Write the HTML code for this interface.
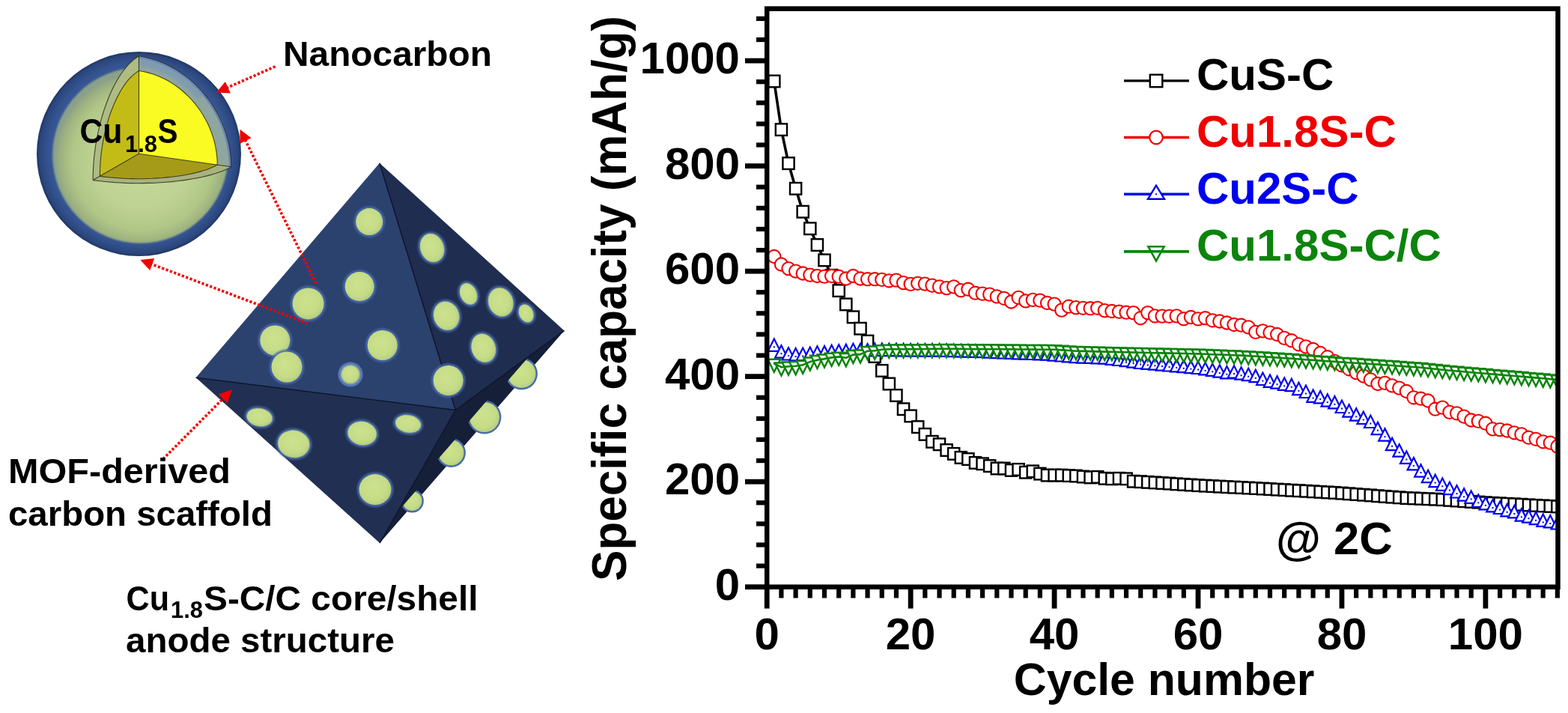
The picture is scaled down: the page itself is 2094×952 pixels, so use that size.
<!DOCTYPE html>
<html><head><meta charset="utf-8"><title>Cu1.8S-C/C core/shell anode</title>
<style>html,body{margin:0;padding:0;background:#fff;overflow:hidden}svg{display:block}</style>
</head><body>
<svg width="2094" height="952" viewBox="0 0 2094 952">
<defs>
<radialGradient id="gRing" cx="185.5" cy="205.5" r="136.5" gradientUnits="userSpaceOnUse">
  <stop offset="0.8" stop-color="#395a9b"/>
  <stop offset="0.9" stop-color="#33528f"/>
  <stop offset="0.97" stop-color="#2b467c"/>
  <stop offset="1" stop-color="#1f3563"/>
</radialGradient>
<radialGradient id="gShell" cx="190" cy="214" r="117.5" gradientUnits="userSpaceOnUse">
  <stop offset="0" stop-color="#c6da9a"/>
  <stop offset="0.55" stop-color="#bed393"/>
  <stop offset="0.8" stop-color="#b0c687"/>
  <stop offset="0.93" stop-color="#9db17f"/>
  <stop offset="1" stop-color="#8aa08a"/>
</radialGradient>
<radialGradient id="gBead" cx="0.45" cy="0.42" r="0.6">
  <stop offset="0" stop-color="#cde28e"/>
  <stop offset="0.7" stop-color="#c5dc87"/>
  <stop offset="1" stop-color="#b4cb82"/>
</radialGradient>
<filter id="blur1" x="-30%" y="-30%" width="160%" height="160%"><feGaussianBlur stdDeviation="1.6"/></filter>
<filter id="blur2" x="-30%" y="-30%" width="160%" height="160%"><feGaussianBlur stdDeviation="0.9"/></filter><filter id="blur4" x="-30%" y="-30%" width="160%" height="160%"><feGaussianBlur stdDeviation="0.6"/></filter>
<filter id="blur3" x="-10%" y="-10%" width="120%" height="120%"><feGaussianBlur stdDeviation="1.3"/></filter>
<clipPath id="bc0"><polygon points="651.4,539.3 730.1,448.7 775.4,488.1 696.7,578.7"/></clipPath><clipPath id="bc1"><polygon points="598.6,594.4 677.3,503.8 722.6,543.2 643.9,633.8"/></clipPath><clipPath id="bc2"><polygon points="557.4,644.8 636.1,554.2 681.4,593.5 602.7,684.1"/></clipPath><clipPath id="bc3"><polygon points="507.2,710.9 585.9,620.3 631.2,659.6 552.5,750.2"/></clipPath></defs>
<rect width="2094" height="952" fill="#fff"/>
<circle cx="185.5" cy="205.5" r="136.5" fill="url(#gRing)"/>
<circle cx="187.4" cy="207.4" r="117.3" fill="url(#gShell)" filter="url(#blur3)"/>
<path d="M185.5,205.3 L124.1,240.6 L131.1,241.5 L138.3,242.3 L145.6,243.0 L153.1,243.6 L160.7,244.0 L168.3,244.4 L176.0,244.6 L183.7,244.7 L191.5,244.6 L199.2,244.4 L206.8,244.2 L214.4,243.7 L221.9,243.2 L229.3,242.6 L236.6,241.8 L243.7,240.9 L250.6,239.9 L257.3,238.8 L263.8,237.6 L270.0,236.3 L276.0,234.9 L281.7,233.4 L287.1,231.8 L292.1,230.1 L296.9,228.4 L301.2,226.5 L305.3,224.7 L308.9,222.7 Z" fill="#a8b27e"/>
<path d="M185.5,205.3 L133.4,235.3 L139.3,236.1 L145.4,236.7 L151.7,237.3 L158.0,237.8 L164.4,238.2 L170.9,238.5 L177.4,238.6 L184.0,238.7 L190.6,238.7 L197.1,238.5 L203.6,238.3 L210.1,237.9 L216.4,237.5 L222.7,236.9 L228.9,236.3 L234.9,235.5 L240.8,234.7 L246.5,233.8 L252.0,232.7 L257.3,231.6 L262.3,230.4 L267.2,229.1 L271.7,227.8 L276.0,226.4 L280.1,224.9 L283.8,223.3 L287.2,221.7 L290.3,220.1 Z" fill="#a59b19"/>
<path d="M185.5,205.3 L124.1,240.6 L124.2,233.2 L124.5,225.8 L125.0,218.2 L125.6,210.7 L126.5,203.1 L127.5,195.5 L128.8,188.0 L130.2,180.5 L131.8,173.1 L133.5,165.8 L135.4,158.6 L137.5,151.5 L139.7,144.7 L142.1,138.0 L144.6,131.5 L147.2,125.3 L150.0,119.3 L152.8,113.6 L155.8,108.2 L158.9,103.0 L162.0,98.2 L165.2,93.8 L168.5,89.7 L171.8,85.9 L175.2,82.6 L178.6,79.6 L182.1,77.0 L185.5,74.8 Z" fill="#aebb84"/>
<path d="M185.5,205.3 L133.4,235.3 L133.5,229.0 L133.7,222.7 L134.1,216.3 L134.7,209.9 L135.4,203.4 L136.3,197.0 L137.3,190.6 L138.5,184.2 L139.9,177.9 L141.4,171.7 L143.0,165.6 L144.7,159.7 L146.6,153.8 L148.6,148.1 L150.8,142.7 L153.0,137.4 L155.3,132.3 L157.8,127.4 L160.3,122.8 L162.9,118.5 L165.6,114.4 L168.3,110.6 L171.1,107.1 L173.9,104.0 L176.8,101.1 L179.7,98.6 L182.6,96.4 L185.5,94.5 Z" fill="#c4bc16"/>
<path d="M185.5,205.3 L185.5,74.8 L192.4,76.0 L199.3,77.6 L206.2,79.6 L213.0,81.9 L219.7,84.7 L226.3,87.9 L232.7,91.4 L239.0,95.3 L245.2,99.5 L251.2,104.1 L256.9,108.9 L262.4,114.1 L267.7,119.6 L272.8,125.3 L277.5,131.3 L282.0,137.5 L286.1,144.0 L290.0,150.6 L293.5,157.4 L296.7,164.4 L299.5,171.4 L302.0,178.6 L304.1,185.9 L305.8,193.2 L307.2,200.6 L308.1,208.0 L308.7,215.4 L308.9,222.7 Z" fill="#6584bd"/>
<path d="M185.5,205.3 L185.5,78.1 L192.2,79.2 L199.0,80.8 L205.7,82.7 L212.3,85.0 L218.8,87.7 L225.2,90.8 L231.5,94.2 L237.7,98.0 L243.7,102.1 L249.5,106.6 L255.1,111.3 L260.5,116.4 L265.7,121.7 L270.6,127.3 L275.2,133.2 L279.6,139.2 L283.6,145.5 L287.4,152.0 L290.8,158.6 L293.9,165.4 L296.7,172.3 L299.1,179.3 L301.1,186.4 L302.8,193.5 L304.1,200.7 L305.1,207.9 L305.6,215.1 L305.8,222.3 Z" fill="#8fa6a0"/>
<path d="M185.5,205.3 L185.5,94.5 L191.4,95.5 L197.2,96.9 L203.0,98.5 L208.8,100.6 L214.5,102.9 L220.1,105.6 L225.6,108.6 L231.0,111.9 L236.2,115.5 L241.2,119.3 L246.1,123.5 L250.8,127.9 L255.3,132.5 L259.6,137.4 L263.6,142.5 L267.4,147.8 L270.9,153.2 L274.2,158.9 L277.2,164.6 L279.9,170.5 L282.3,176.5 L284.4,182.7 L286.2,188.8 L287.6,195.0 L288.8,201.3 L289.6,207.6 L290.1,213.8 L290.3,220.1 Z" fill="#fbfb24"/>
<path d="M185.5,74.8 L204.8,79.1 L223.6,86.6 L241.5,96.9 L258.0,110.0 L272.8,125.3 L264.0,133.3 L250.8,119.5 L235.9,107.8 L219.8,98.4 L202.9,91.7 L185.5,87.9 Z" fill="#6f8fc0" opacity="0.45" filter="url(#blur1)"/>
<path d="M124.1,240.6 L131.1,241.5 L138.3,242.3 L145.6,243.0 L153.1,243.6 L160.7,244.0 L168.3,244.4 L176.0,244.6 L183.7,244.7 L191.5,244.6 L199.2,244.4 L206.8,244.2 L214.4,243.7 L221.9,243.2 L229.3,242.6 L236.6,241.8 L243.7,240.9 L250.6,239.9 L257.3,238.8 L263.8,237.6 L270.0,236.3 L276.0,234.9 L281.7,233.4 L287.1,231.8 L292.1,230.1 L296.9,228.4 L301.2,226.5 L305.3,224.7 L308.9,222.7" stroke="#2c2c14" stroke-width="1.1" fill="none" opacity="0.85"/>
<path d="M133.4,235.3 L139.3,236.1 L145.4,236.7 L151.7,237.3 L158.0,237.8 L164.4,238.2 L170.9,238.5 L177.4,238.6 L184.0,238.7 L190.6,238.7 L197.1,238.5 L203.6,238.3 L210.1,237.9 L216.4,237.5 L222.7,236.9 L228.9,236.3 L234.9,235.5 L240.8,234.7 L246.5,233.8 L252.0,232.7 L257.3,231.6 L262.3,230.4 L267.2,229.1 L271.7,227.8 L276.0,226.4 L280.1,224.9 L283.8,223.3 L287.2,221.7 L290.3,220.1" stroke="#2c2c14" stroke-width="1.1" fill="none" opacity="0.85"/>
<path d="M124.1,240.6 L124.2,233.2 L124.5,225.8 L125.0,218.2 L125.6,210.7 L126.5,203.1 L127.5,195.5 L128.8,188.0 L130.2,180.5 L131.8,173.1 L133.5,165.8 L135.4,158.6 L137.5,151.5 L139.7,144.7 L142.1,138.0 L144.6,131.5 L147.2,125.3 L150.0,119.3 L152.8,113.6 L155.8,108.2 L158.9,103.0 L162.0,98.2 L165.2,93.8 L168.5,89.7 L171.8,85.9 L175.2,82.6 L178.6,79.6 L182.1,77.0 L185.5,74.8" stroke="#2c2c14" stroke-width="1.1" fill="none" opacity="0.85"/>
<path d="M133.4,235.3 L133.5,229.0 L133.7,222.7 L134.1,216.3 L134.7,209.9 L135.4,203.4 L136.3,197.0 L137.3,190.6 L138.5,184.2 L139.9,177.9 L141.4,171.7 L143.0,165.6 L144.7,159.7 L146.6,153.8 L148.6,148.1 L150.8,142.7 L153.0,137.4 L155.3,132.3 L157.8,127.4 L160.3,122.8 L162.9,118.5 L165.6,114.4 L168.3,110.6 L171.1,107.1 L173.9,104.0 L176.8,101.1 L179.7,98.6 L182.6,96.4 L185.5,94.5" stroke="#2c2c14" stroke-width="1.1" fill="none" opacity="0.85"/>
<path d="M185.5,74.8 L192.4,76.0 L199.3,77.6 L206.2,79.6 L213.0,81.9 L219.7,84.7 L226.3,87.9 L232.7,91.4 L239.0,95.3 L245.2,99.5 L251.2,104.1 L256.9,108.9 L262.4,114.1 L267.7,119.6 L272.8,125.3 L277.5,131.3 L282.0,137.5 L286.1,144.0 L290.0,150.6 L293.5,157.4 L296.7,164.4 L299.5,171.4 L302.0,178.6 L304.1,185.9 L305.8,193.2 L307.2,200.6 L308.1,208.0 L308.7,215.4 L308.9,222.7" stroke="#2c2c14" stroke-width="1.1" fill="none" opacity="0.85"/>
<path d="M185.5,94.5 L191.4,95.5 L197.2,96.9 L203.0,98.5 L208.8,100.6 L214.5,102.9 L220.1,105.6 L225.6,108.6 L231.0,111.9 L236.2,115.5 L241.2,119.3 L246.1,123.5 L250.8,127.9 L255.3,132.5 L259.6,137.4 L263.6,142.5 L267.4,147.8 L270.9,153.2 L274.2,158.9 L277.2,164.6 L279.9,170.5 L282.3,176.5 L284.4,182.7 L286.2,188.8 L287.6,195.0 L288.8,201.3 L289.6,207.6 L290.1,213.8 L290.3,220.1" stroke="#2c2c14" stroke-width="1.1" fill="none" opacity="0.85"/>
<line x1="185.5" y1="205.3" x2="185.5" y2="74.8" stroke="#2c2c14" stroke-width="1.1" fill="none" opacity="0.85"/>
<line x1="185.5" y1="205.3" x2="308.9" y2="222.7" stroke="#2c2c14" stroke-width="1.1" fill="none" opacity="0.85"/>
<line x1="185.5" y1="205.3" x2="124.1" y2="240.6" stroke="#2c2c14" stroke-width="1.1" fill="none" opacity="0.85"/>
<polygon points="506.9,217.7 261.6,504.2 608.3,547.6" fill="#2c426e"/>
<polygon points="506.9,217.7 608.3,547.6 753.5,441.5" fill="#1f2d50"/>
<polygon points="261.6,504.2 507.1,725.1 608.3,547.6" fill="#213052"/>
<polygon points="608.3,547.6 507.1,725.1 753.5,441.5" fill="#161f38"/>
<path d="M261.6,504.2 L608.3,547.6 L753.5,441.5 M506.9,217.7 L608.3,547.6 M608.3,547.6 L507.1,725.1" stroke="#0f1730" stroke-width="1.6" fill="none"/>
<ellipse cx="493.2" cy="296.1" rx="20.8" ry="20.8" fill="#4a6aab" opacity="0.9" filter="url(#blur2)"/>
<ellipse cx="493.2" cy="296.1" rx="18.0" ry="18.0" fill="url(#gBead)" filter="url(#blur4)"/>
<ellipse cx="480.2" cy="382.6" rx="22.3" ry="22.3" fill="#4a6aab" opacity="0.9" filter="url(#blur2)"/>
<ellipse cx="480.2" cy="382.6" rx="19.5" ry="19.5" fill="url(#gBead)" filter="url(#blur4)"/>
<ellipse cx="411.6" cy="405.4" rx="23.8" ry="23.8" fill="#4a6aab" opacity="0.9" filter="url(#blur2)"/>
<ellipse cx="411.6" cy="405.4" rx="21.0" ry="21.0" fill="url(#gBead)" filter="url(#blur4)"/>
<ellipse cx="367.3" cy="454.4" rx="22.8" ry="22.8" fill="#4a6aab" opacity="0.9" filter="url(#blur2)"/>
<ellipse cx="367.3" cy="454.4" rx="20.0" ry="20.0" fill="url(#gBead)" filter="url(#blur4)"/>
<ellipse cx="383.0" cy="490.0" rx="23.3" ry="23.3" fill="#4a6aab" opacity="0.9" filter="url(#blur2)"/>
<ellipse cx="383.0" cy="490.0" rx="20.5" ry="20.5" fill="url(#gBead)" filter="url(#blur4)"/>
<ellipse cx="510.8" cy="461.0" rx="22.8" ry="22.8" fill="#4a6aab" opacity="0.9" filter="url(#blur2)"/>
<ellipse cx="510.8" cy="461.0" rx="20.0" ry="20.0" fill="url(#gBead)" filter="url(#blur4)"/>
<ellipse cx="577.1" cy="331.1" rx="18.6" ry="22.3" fill="#4a6aab" opacity="0.9" filter="url(#blur2)" transform="rotate(-20 577.1 331.1)"/>
<ellipse cx="577.1" cy="331.1" rx="15.8" ry="19.5" fill="url(#gBead)" filter="url(#blur4)" transform="rotate(-20 577.1 331.1)"/>
<ellipse cx="625.7" cy="392.5" rx="13.8" ry="17.8" fill="#4a6aab" opacity="0.9" filter="url(#blur2)" transform="rotate(-25 625.7 392.5)"/>
<ellipse cx="625.7" cy="392.5" rx="11.0" ry="15.0" fill="url(#gBead)" filter="url(#blur4)" transform="rotate(-25 625.7 392.5)"/>
<ellipse cx="668.8" cy="403.4" rx="19.3" ry="22.3" fill="#4a6aab" opacity="0.9" filter="url(#blur2)" transform="rotate(-20 668.8 403.4)"/>
<ellipse cx="668.8" cy="403.4" rx="16.5" ry="19.5" fill="url(#gBead)" filter="url(#blur4)" transform="rotate(-20 668.8 403.4)"/>
<ellipse cx="702.7" cy="418.5" rx="12.3" ry="15.3" fill="#4a6aab" opacity="0.9" filter="url(#blur2)" transform="rotate(-25 702.7 418.5)"/>
<ellipse cx="702.7" cy="418.5" rx="9.5" ry="12.5" fill="url(#gBead)" filter="url(#blur4)" transform="rotate(-25 702.7 418.5)"/>
<ellipse cx="596.2" cy="421.7" rx="19.8" ry="22.3" fill="#4a6aab" opacity="0.9" filter="url(#blur2)" transform="rotate(-20 596.2 421.7)"/>
<ellipse cx="596.2" cy="421.7" rx="17.0" ry="19.5" fill="url(#gBead)" filter="url(#blur4)" transform="rotate(-20 596.2 421.7)"/>
<ellipse cx="645.8" cy="464.8" rx="18.8" ry="22.3" fill="#4a6aab" opacity="0.9" filter="url(#blur2)" transform="rotate(-20 645.8 464.8)"/>
<ellipse cx="645.8" cy="464.8" rx="16.0" ry="19.5" fill="url(#gBead)" filter="url(#blur4)" transform="rotate(-20 645.8 464.8)"/>
<ellipse cx="598.6" cy="508.0" rx="22.8" ry="22.8" fill="#4a6aab" opacity="0.9" filter="url(#blur2)"/>
<ellipse cx="598.6" cy="508.0" rx="20.0" ry="20.0" fill="url(#gBead)" filter="url(#blur4)"/>
<ellipse cx="346.6" cy="557.2" rx="20.1" ry="14.8" fill="#4a6aab" opacity="0.9" filter="url(#blur2)" transform="rotate(10 346.6 557.2)"/>
<ellipse cx="346.6" cy="557.2" rx="17.3" ry="12.0" fill="url(#gBead)" filter="url(#blur4)" transform="rotate(10 346.6 557.2)"/>
<ellipse cx="392.3" cy="592.8" rx="24.2" ry="21.1" fill="#4a6aab" opacity="0.9" filter="url(#blur2)" transform="rotate(10 392.3 592.8)"/>
<ellipse cx="392.3" cy="592.8" rx="21.4" ry="18.3" fill="url(#gBead)" filter="url(#blur4)" transform="rotate(10 392.3 592.8)"/>
<ellipse cx="483.7" cy="578.6" rx="22.3" ry="18.6" fill="#4a6aab" opacity="0.9" filter="url(#blur2)" transform="rotate(10 483.7 578.6)"/>
<ellipse cx="483.7" cy="578.6" rx="19.5" ry="15.8" fill="url(#gBead)" filter="url(#blur4)" transform="rotate(10 483.7 578.6)"/>
<ellipse cx="545.1" cy="566.0" rx="20.1" ry="14.5" fill="#4a6aab" opacity="0.9" filter="url(#blur2)" transform="rotate(10 545.1 566.0)"/>
<ellipse cx="545.1" cy="566.0" rx="17.3" ry="11.7" fill="url(#gBead)" filter="url(#blur4)" transform="rotate(10 545.1 566.0)"/>
<ellipse cx="501.0" cy="653.6" rx="24.2" ry="23.3" fill="#4a6aab" opacity="0.9" filter="url(#blur2)"/>
<ellipse cx="501.0" cy="653.6" rx="21.4" ry="20.5" fill="url(#gBead)" filter="url(#blur4)"/>
<g clip-path="url(#bc0)"><circle cx="696.5" cy="499.0" r="21.4" fill="#4a6aab" filter="url(#blur4)"/><circle cx="696.5" cy="499.0" r="19.0" fill="url(#gBead)" filter="url(#blur4)"/></g>
<g clip-path="url(#bc1)"><circle cx="647.0" cy="557.0" r="22.4" fill="#4a6aab" filter="url(#blur4)"/><circle cx="647.0" cy="557.0" r="20.0" fill="url(#gBead)" filter="url(#blur4)"/></g>
<g clip-path="url(#bc2)"><circle cx="602.5" cy="604.5" r="19.4" fill="#4a6aab" filter="url(#blur4)"/><circle cx="602.5" cy="604.5" r="17.0" fill="url(#gBead)" filter="url(#blur4)"/></g>
<g clip-path="url(#bc3)"><circle cx="550.5" cy="669.0" r="15.4" fill="#4a6aab" filter="url(#blur4)"/><circle cx="550.5" cy="669.0" r="13.0" fill="url(#gBead)" filter="url(#blur4)"/></g>
<circle cx="468.0" cy="500.0" r="16.6" fill="#5274b8" filter="url(#blur4)"/>
<circle cx="468.0" cy="500.0" r="12.6" fill="url(#gBead)" filter="url(#blur2)"/>
<line x1="367.6" y1="88.8" x2="302.5" y2="117.5" stroke="#f40000" stroke-width="3.6" stroke-dasharray="3.2 2.5"/><polygon points="288.8,123.5 300.9,108.9 307.8,124.4" fill="#f40000"/>
<line x1="422.0" y1="378.3" x2="327.1" y2="186.2" stroke="#f40000" stroke-width="3.6" stroke-dasharray="3.2 2.5"/><polygon points="320.5,172.7 335.6,184.2 320.4,191.7" fill="#f40000"/>
<line x1="411.0" y1="431.9" x2="201.3" y2="352.2" stroke="#f40000" stroke-width="3.6" stroke-dasharray="3.2 2.5"/><polygon points="187.3,346.9 206.2,345.0 200.2,360.9" fill="#f40000"/>
<line x1="217.8" y1="612.9" x2="299.2" y2="530.9" stroke="#f40000" stroke-width="3.6" stroke-dasharray="3.2 2.5"/><polygon points="309.8,520.3 303.8,538.4 291.8,526.4" fill="#f40000"/>
<text x="378.0" y="87.8" font-size="46.5" font-family="Liberation Sans, Arial, sans-serif" font-weight="bold" textLength="279.0" lengthAdjust="spacingAndGlyphs">Nanocarbon</text>
<text x="106.5" y="190.8" font-size="46.5" font-family="Liberation Sans, Arial, sans-serif" font-weight="bold" textLength="57.0" lengthAdjust="spacingAndGlyphs">Cu</text>
<text x="167.0" y="202.6" font-size="31.0" font-family="Liberation Sans, Arial, sans-serif" font-weight="bold" textLength="43.0" lengthAdjust="spacingAndGlyphs">1.8</text>
<text x="210.5" y="190.8" font-size="46.5" font-family="Liberation Sans, Arial, sans-serif" font-weight="bold" textLength="27.0" lengthAdjust="spacingAndGlyphs">S</text>
<text x="11.0" y="645.4" font-size="46.5" font-family="Liberation Sans, Arial, sans-serif" font-weight="bold" textLength="297.0" lengthAdjust="spacingAndGlyphs">MOF-derived</text>
<text x="11.0" y="701.7" font-size="46.5" font-family="Liberation Sans, Arial, sans-serif" font-weight="bold" textLength="353.0" lengthAdjust="spacingAndGlyphs">carbon scaffold</text>
<text x="168.5" y="814.9" font-size="46.5" font-family="Liberation Sans, Arial, sans-serif" font-weight="bold" textLength="57.5" lengthAdjust="spacingAndGlyphs">Cu</text>
<text x="228.0" y="825.4" font-size="31.0" font-family="Liberation Sans, Arial, sans-serif" font-weight="bold" textLength="43.0" lengthAdjust="spacingAndGlyphs">1.8</text>
<text x="272.0" y="814.9" font-size="46.5" font-family="Liberation Sans, Arial, sans-serif" font-weight="bold" textLength="366.5" lengthAdjust="spacingAndGlyphs">S-C/C core/shell</text>
<text x="168.0" y="871.0" font-size="46.5" font-family="Liberation Sans, Arial, sans-serif" font-weight="bold" textLength="359.0" lengthAdjust="spacingAndGlyphs">anode structure</text>
<clipPath id="plotclip"><rect x="1027" y="14" width="1051" height="767"/></clipPath>
<g clip-path="url(#plotclip)"><polyline points="1033.8,108.5 1043.4,173.1 1053.0,218.1 1062.6,251.8 1072.2,282.7 1081.8,305.2 1091.4,327.0 1101.0,347.4 1110.6,367.8 1120.2,388.1 1129.8,406.4 1139.4,423.3 1149.0,438.7 1158.6,455.6 1168.2,476.0 1177.8,494.9 1187.3,512.5 1196.9,528.0 1206.5,546.2 1216.1,555.4 1225.7,570.1 1235.3,579.9 1244.9,589.8 1254.5,593.3 1264.1,601.0 1273.7,605.9 1283.3,610.9 1292.9,613.0 1302.5,617.9 1312.1,619.3 1321.7,622.1 1331.3,625.5 1340.9,625.5 1350.5,627.9 1360.1,626.9 1369.7,630.7 1379.3,629.3 1388.9,632.6 1398.5,634.6 1408.1,634.6 1417.7,634.6 1427.3,635.1 1436.9,635.5 1446.5,636.5 1456.1,637.4 1465.7,636.9 1475.3,638.8 1484.9,639.3 1494.5,638.8 1504.0,639.3 1513.6,642.7 1523.2,643.2 1532.8,643.8 1542.4,644.4 1552.0,645.0 1561.6,645.6 1571.2,646.3 1580.8,646.9 1590.4,647.5 1600.0,648.1 1609.6,648.6 1619.2,649.1 1628.8,649.6 1638.4,650.1 1648.0,650.6 1657.6,651.0 1667.2,651.5 1676.8,652.0 1686.4,652.5 1696.0,653.0 1705.6,653.6 1715.2,654.1 1724.8,654.7 1734.4,655.2 1744.0,655.7 1753.6,656.3 1763.2,656.8 1772.8,657.4 1782.4,657.9 1792.0,658.6 1801.6,659.3 1811.2,660.0 1820.8,660.7 1830.3,661.4 1839.9,662.2 1849.5,662.9 1859.1,663.6 1868.7,664.3 1878.3,665.0 1887.9,665.4 1897.5,665.8 1907.1,666.2 1916.7,666.6 1926.3,667.1 1935.9,667.8 1945.5,668.5 1955.1,669.2 1964.7,669.9 1974.3,670.6 1983.9,671.3 1993.5,671.8 2003.1,672.3 2012.7,672.8 2022.3,673.3 2031.9,673.8 2041.5,674.4 2051.1,674.9 2060.7,675.4 2070.3,675.9 2079.9,676.4" fill="none" stroke="#000000" stroke-width="3.6" stroke-linejoin="round"/><rect x="1026.2" y="100.7" width="15.2" height="15.6" fill="#fff" stroke="#000" stroke-width="2.4"/><rect x="1035.8" y="165.3" width="15.2" height="15.6" fill="#fff" stroke="#000" stroke-width="2.4"/><rect x="1045.4" y="210.3" width="15.2" height="15.6" fill="#fff" stroke="#000" stroke-width="2.4"/><rect x="1055.0" y="244.0" width="15.2" height="15.6" fill="#fff" stroke="#000" stroke-width="2.4"/><rect x="1064.6" y="274.9" width="15.2" height="15.6" fill="#fff" stroke="#000" stroke-width="2.4"/><rect x="1074.2" y="297.4" width="15.2" height="15.6" fill="#fff" stroke="#000" stroke-width="2.4"/><rect x="1083.8" y="319.2" width="15.2" height="15.6" fill="#fff" stroke="#000" stroke-width="2.4"/><rect x="1093.4" y="339.6" width="15.2" height="15.6" fill="#fff" stroke="#000" stroke-width="2.4"/><rect x="1103.0" y="360.0" width="15.2" height="15.6" fill="#fff" stroke="#000" stroke-width="2.4"/><rect x="1112.6" y="380.3" width="15.2" height="15.6" fill="#fff" stroke="#000" stroke-width="2.4"/><rect x="1122.2" y="398.6" width="15.2" height="15.6" fill="#fff" stroke="#000" stroke-width="2.4"/><rect x="1131.8" y="415.5" width="15.2" height="15.6" fill="#fff" stroke="#000" stroke-width="2.4"/><rect x="1141.4" y="430.9" width="15.2" height="15.6" fill="#fff" stroke="#000" stroke-width="2.4"/><rect x="1151.0" y="447.8" width="15.2" height="15.6" fill="#fff" stroke="#000" stroke-width="2.4"/><rect x="1160.6" y="468.2" width="15.2" height="15.6" fill="#fff" stroke="#000" stroke-width="2.4"/><rect x="1170.2" y="487.1" width="15.2" height="15.6" fill="#fff" stroke="#000" stroke-width="2.4"/><rect x="1179.7" y="504.7" width="15.2" height="15.6" fill="#fff" stroke="#000" stroke-width="2.4"/><rect x="1189.3" y="520.2" width="15.2" height="15.6" fill="#fff" stroke="#000" stroke-width="2.4"/><rect x="1198.9" y="538.4" width="15.2" height="15.6" fill="#fff" stroke="#000" stroke-width="2.4"/><rect x="1208.5" y="547.6" width="15.2" height="15.6" fill="#fff" stroke="#000" stroke-width="2.4"/><rect x="1218.1" y="562.3" width="15.2" height="15.6" fill="#fff" stroke="#000" stroke-width="2.4"/><rect x="1227.7" y="572.1" width="15.2" height="15.6" fill="#fff" stroke="#000" stroke-width="2.4"/><rect x="1237.3" y="582.0" width="15.2" height="15.6" fill="#fff" stroke="#000" stroke-width="2.4"/><rect x="1246.9" y="585.5" width="15.2" height="15.6" fill="#fff" stroke="#000" stroke-width="2.4"/><rect x="1256.5" y="593.2" width="15.2" height="15.6" fill="#fff" stroke="#000" stroke-width="2.4"/><rect x="1266.1" y="598.1" width="15.2" height="15.6" fill="#fff" stroke="#000" stroke-width="2.4"/><rect x="1275.7" y="603.1" width="15.2" height="15.6" fill="#fff" stroke="#000" stroke-width="2.4"/><rect x="1285.3" y="605.2" width="15.2" height="15.6" fill="#fff" stroke="#000" stroke-width="2.4"/><rect x="1294.9" y="610.1" width="15.2" height="15.6" fill="#fff" stroke="#000" stroke-width="2.4"/><rect x="1304.5" y="611.5" width="15.2" height="15.6" fill="#fff" stroke="#000" stroke-width="2.4"/><rect x="1314.1" y="614.3" width="15.2" height="15.6" fill="#fff" stroke="#000" stroke-width="2.4"/><rect x="1323.7" y="617.7" width="15.2" height="15.6" fill="#fff" stroke="#000" stroke-width="2.4"/><rect x="1333.3" y="617.7" width="15.2" height="15.6" fill="#fff" stroke="#000" stroke-width="2.4"/><rect x="1342.9" y="620.1" width="15.2" height="15.6" fill="#fff" stroke="#000" stroke-width="2.4"/><rect x="1352.5" y="619.1" width="15.2" height="15.6" fill="#fff" stroke="#000" stroke-width="2.4"/><rect x="1362.1" y="622.9" width="15.2" height="15.6" fill="#fff" stroke="#000" stroke-width="2.4"/><rect x="1371.7" y="621.5" width="15.2" height="15.6" fill="#fff" stroke="#000" stroke-width="2.4"/><rect x="1381.3" y="624.8" width="15.2" height="15.6" fill="#fff" stroke="#000" stroke-width="2.4"/><rect x="1390.9" y="626.8" width="15.2" height="15.6" fill="#fff" stroke="#000" stroke-width="2.4"/><rect x="1400.5" y="626.8" width="15.2" height="15.6" fill="#fff" stroke="#000" stroke-width="2.4"/><rect x="1410.1" y="626.8" width="15.2" height="15.6" fill="#fff" stroke="#000" stroke-width="2.4"/><rect x="1419.7" y="627.3" width="15.2" height="15.6" fill="#fff" stroke="#000" stroke-width="2.4"/><rect x="1429.3" y="627.7" width="15.2" height="15.6" fill="#fff" stroke="#000" stroke-width="2.4"/><rect x="1438.9" y="628.7" width="15.2" height="15.6" fill="#fff" stroke="#000" stroke-width="2.4"/><rect x="1448.5" y="629.6" width="15.2" height="15.6" fill="#fff" stroke="#000" stroke-width="2.4"/><rect x="1458.1" y="629.1" width="15.2" height="15.6" fill="#fff" stroke="#000" stroke-width="2.4"/><rect x="1467.7" y="631.0" width="15.2" height="15.6" fill="#fff" stroke="#000" stroke-width="2.4"/><rect x="1477.3" y="631.5" width="15.2" height="15.6" fill="#fff" stroke="#000" stroke-width="2.4"/><rect x="1486.9" y="631.0" width="15.2" height="15.6" fill="#fff" stroke="#000" stroke-width="2.4"/><rect x="1496.5" y="631.5" width="15.2" height="15.6" fill="#fff" stroke="#000" stroke-width="2.4"/><rect x="1506.0" y="634.9" width="15.2" height="15.6" fill="#fff" stroke="#000" stroke-width="2.4"/><rect x="1515.6" y="635.4" width="15.2" height="15.6" fill="#fff" stroke="#000" stroke-width="2.4"/><rect x="1525.2" y="636.0" width="15.2" height="15.6" fill="#fff" stroke="#000" stroke-width="2.4"/><rect x="1534.8" y="636.6" width="15.2" height="15.6" fill="#fff" stroke="#000" stroke-width="2.4"/><rect x="1544.4" y="637.2" width="15.2" height="15.6" fill="#fff" stroke="#000" stroke-width="2.4"/><rect x="1554.0" y="637.8" width="15.2" height="15.6" fill="#fff" stroke="#000" stroke-width="2.4"/><rect x="1563.6" y="638.5" width="15.2" height="15.6" fill="#fff" stroke="#000" stroke-width="2.4"/><rect x="1573.2" y="639.1" width="15.2" height="15.6" fill="#fff" stroke="#000" stroke-width="2.4"/><rect x="1582.8" y="639.7" width="15.2" height="15.6" fill="#fff" stroke="#000" stroke-width="2.4"/><rect x="1592.4" y="640.3" width="15.2" height="15.6" fill="#fff" stroke="#000" stroke-width="2.4"/><rect x="1602.0" y="640.8" width="15.2" height="15.6" fill="#fff" stroke="#000" stroke-width="2.4"/><rect x="1611.6" y="641.3" width="15.2" height="15.6" fill="#fff" stroke="#000" stroke-width="2.4"/><rect x="1621.2" y="641.8" width="15.2" height="15.6" fill="#fff" stroke="#000" stroke-width="2.4"/><rect x="1630.8" y="642.3" width="15.2" height="15.6" fill="#fff" stroke="#000" stroke-width="2.4"/><rect x="1640.4" y="642.8" width="15.2" height="15.6" fill="#fff" stroke="#000" stroke-width="2.4"/><rect x="1650.0" y="643.2" width="15.2" height="15.6" fill="#fff" stroke="#000" stroke-width="2.4"/><rect x="1659.6" y="643.7" width="15.2" height="15.6" fill="#fff" stroke="#000" stroke-width="2.4"/><rect x="1669.2" y="644.2" width="15.2" height="15.6" fill="#fff" stroke="#000" stroke-width="2.4"/><rect x="1678.8" y="644.7" width="15.2" height="15.6" fill="#fff" stroke="#000" stroke-width="2.4"/><rect x="1688.4" y="645.2" width="15.2" height="15.6" fill="#fff" stroke="#000" stroke-width="2.4"/><rect x="1698.0" y="645.8" width="15.2" height="15.6" fill="#fff" stroke="#000" stroke-width="2.4"/><rect x="1707.6" y="646.3" width="15.2" height="15.6" fill="#fff" stroke="#000" stroke-width="2.4"/><rect x="1717.2" y="646.9" width="15.2" height="15.6" fill="#fff" stroke="#000" stroke-width="2.4"/><rect x="1726.8" y="647.4" width="15.2" height="15.6" fill="#fff" stroke="#000" stroke-width="2.4"/><rect x="1736.4" y="647.9" width="15.2" height="15.6" fill="#fff" stroke="#000" stroke-width="2.4"/><rect x="1746.0" y="648.5" width="15.2" height="15.6" fill="#fff" stroke="#000" stroke-width="2.4"/><rect x="1755.6" y="649.0" width="15.2" height="15.6" fill="#fff" stroke="#000" stroke-width="2.4"/><rect x="1765.2" y="649.6" width="15.2" height="15.6" fill="#fff" stroke="#000" stroke-width="2.4"/><rect x="1774.8" y="650.1" width="15.2" height="15.6" fill="#fff" stroke="#000" stroke-width="2.4"/><rect x="1784.4" y="650.8" width="15.2" height="15.6" fill="#fff" stroke="#000" stroke-width="2.4"/><rect x="1794.0" y="651.5" width="15.2" height="15.6" fill="#fff" stroke="#000" stroke-width="2.4"/><rect x="1803.6" y="652.2" width="15.2" height="15.6" fill="#fff" stroke="#000" stroke-width="2.4"/><rect x="1813.2" y="652.9" width="15.2" height="15.6" fill="#fff" stroke="#000" stroke-width="2.4"/><rect x="1822.7" y="653.6" width="15.2" height="15.6" fill="#fff" stroke="#000" stroke-width="2.4"/><rect x="1832.3" y="654.4" width="15.2" height="15.6" fill="#fff" stroke="#000" stroke-width="2.4"/><rect x="1841.9" y="655.1" width="15.2" height="15.6" fill="#fff" stroke="#000" stroke-width="2.4"/><rect x="1851.5" y="655.8" width="15.2" height="15.6" fill="#fff" stroke="#000" stroke-width="2.4"/><rect x="1861.1" y="656.5" width="15.2" height="15.6" fill="#fff" stroke="#000" stroke-width="2.4"/><rect x="1870.7" y="657.2" width="15.2" height="15.6" fill="#fff" stroke="#000" stroke-width="2.4"/><rect x="1880.3" y="657.6" width="15.2" height="15.6" fill="#fff" stroke="#000" stroke-width="2.4"/><rect x="1889.9" y="658.0" width="15.2" height="15.6" fill="#fff" stroke="#000" stroke-width="2.4"/><rect x="1899.5" y="658.4" width="15.2" height="15.6" fill="#fff" stroke="#000" stroke-width="2.4"/><rect x="1909.1" y="658.8" width="15.2" height="15.6" fill="#fff" stroke="#000" stroke-width="2.4"/><rect x="1918.7" y="659.3" width="15.2" height="15.6" fill="#fff" stroke="#000" stroke-width="2.4"/><rect x="1928.3" y="660.0" width="15.2" height="15.6" fill="#fff" stroke="#000" stroke-width="2.4"/><rect x="1937.9" y="660.7" width="15.2" height="15.6" fill="#fff" stroke="#000" stroke-width="2.4"/><rect x="1947.5" y="661.4" width="15.2" height="15.6" fill="#fff" stroke="#000" stroke-width="2.4"/><rect x="1957.1" y="662.1" width="15.2" height="15.6" fill="#fff" stroke="#000" stroke-width="2.4"/><rect x="1966.7" y="662.8" width="15.2" height="15.6" fill="#fff" stroke="#000" stroke-width="2.4"/><rect x="1976.3" y="663.5" width="15.2" height="15.6" fill="#fff" stroke="#000" stroke-width="2.4"/><rect x="1985.9" y="664.0" width="15.2" height="15.6" fill="#fff" stroke="#000" stroke-width="2.4"/><rect x="1995.5" y="664.5" width="15.2" height="15.6" fill="#fff" stroke="#000" stroke-width="2.4"/><rect x="2005.1" y="665.0" width="15.2" height="15.6" fill="#fff" stroke="#000" stroke-width="2.4"/><rect x="2014.7" y="665.5" width="15.2" height="15.6" fill="#fff" stroke="#000" stroke-width="2.4"/><rect x="2024.3" y="666.0" width="15.2" height="15.6" fill="#fff" stroke="#000" stroke-width="2.4"/><rect x="2033.9" y="666.6" width="15.2" height="15.6" fill="#fff" stroke="#000" stroke-width="2.4"/><rect x="2043.5" y="667.1" width="15.2" height="15.6" fill="#fff" stroke="#000" stroke-width="2.4"/><rect x="2053.1" y="667.6" width="15.2" height="15.6" fill="#fff" stroke="#000" stroke-width="2.4"/><rect x="2062.7" y="668.1" width="15.2" height="15.6" fill="#fff" stroke="#000" stroke-width="2.4"/><rect x="2072.3" y="668.6" width="15.2" height="15.6" fill="#fff" stroke="#000" stroke-width="2.4"/><polyline points="1033.8,342.5 1043.4,353.0 1053.0,358.6 1062.6,362.1 1072.2,365.0 1081.8,367.1 1091.4,368.5 1101.0,369.2 1110.6,368.5 1120.2,369.2 1129.8,372.0 1139.4,368.5 1149.0,372.0 1158.6,372.7 1168.2,372.7 1177.8,373.4 1187.3,374.8 1196.9,374.1 1206.5,377.6 1216.1,379.4 1225.7,378.3 1235.3,379.1 1244.9,381.1 1254.5,382.9 1264.1,384.6 1273.7,382.9 1283.3,387.6 1292.9,386.2 1302.5,391.2 1312.1,392.1 1321.7,393.1 1331.3,395.9 1340.9,398.3 1350.5,403.0 1360.1,397.3 1369.7,401.9 1379.3,400.4 1388.9,401.1 1398.5,404.5 1408.1,406.1 1417.7,414.1 1427.3,409.2 1436.9,410.6 1446.5,411.3 1456.1,411.7 1465.7,411.3 1475.3,414.6 1484.9,415.5 1494.5,416.2 1504.0,417.2 1513.6,417.6 1523.2,424.7 1532.8,417.6 1542.4,421.9 1552.0,422.1 1561.6,422.3 1571.2,421.9 1580.8,425.7 1590.4,423.5 1600.0,425.9 1609.6,424.7 1619.2,427.8 1628.8,429.0 1638.4,431.0 1648.0,433.5 1657.6,434.2 1667.2,436.9 1676.8,443.4 1686.4,441.9 1696.0,444.1 1705.6,446.5 1715.2,451.4 1724.8,454.7 1734.4,459.8 1744.0,462.9 1753.6,466.5 1763.2,471.5 1772.8,476.7 1782.4,482.3 1792.0,487.9 1801.6,492.8 1811.2,497.7 1820.8,502.0 1830.3,506.9 1839.9,512.5 1849.5,511.4 1859.1,514.9 1868.7,518.1 1878.3,522.5 1887.9,530.8 1897.5,532.2 1907.1,535.0 1916.7,546.2 1926.3,544.1 1935.9,550.4 1945.5,551.8 1955.1,556.1 1964.7,561.0 1974.3,562.4 1983.9,565.2 1993.5,572.9 2003.1,573.6 2012.7,575.0 2022.3,577.8 2031.9,579.9 2041.5,584.2 2051.1,586.3 2060.7,589.8 2070.3,591.2 2079.9,596.1" fill="none" stroke="#f00000" stroke-width="2.2" stroke-linejoin="round"/><circle cx="1033.8" cy="342.5" r="8.6" fill="#fff" stroke="#f00000" stroke-width="2.1"/><circle cx="1043.4" cy="353.0" r="8.6" fill="#fff" stroke="#f00000" stroke-width="2.1"/><circle cx="1053.0" cy="358.6" r="8.6" fill="#fff" stroke="#f00000" stroke-width="2.1"/><circle cx="1062.6" cy="362.1" r="8.6" fill="#fff" stroke="#f00000" stroke-width="2.1"/><circle cx="1072.2" cy="365.0" r="8.6" fill="#fff" stroke="#f00000" stroke-width="2.1"/><circle cx="1081.8" cy="367.1" r="8.6" fill="#fff" stroke="#f00000" stroke-width="2.1"/><circle cx="1091.4" cy="368.5" r="8.6" fill="#fff" stroke="#f00000" stroke-width="2.1"/><circle cx="1101.0" cy="369.2" r="8.6" fill="#fff" stroke="#f00000" stroke-width="2.1"/><circle cx="1110.6" cy="368.5" r="8.6" fill="#fff" stroke="#f00000" stroke-width="2.1"/><circle cx="1120.2" cy="369.2" r="8.6" fill="#fff" stroke="#f00000" stroke-width="2.1"/><circle cx="1129.8" cy="372.0" r="8.6" fill="#fff" stroke="#f00000" stroke-width="2.1"/><circle cx="1139.4" cy="368.5" r="8.6" fill="#fff" stroke="#f00000" stroke-width="2.1"/><circle cx="1149.0" cy="372.0" r="8.6" fill="#fff" stroke="#f00000" stroke-width="2.1"/><circle cx="1158.6" cy="372.7" r="8.6" fill="#fff" stroke="#f00000" stroke-width="2.1"/><circle cx="1168.2" cy="372.7" r="8.6" fill="#fff" stroke="#f00000" stroke-width="2.1"/><circle cx="1177.8" cy="373.4" r="8.6" fill="#fff" stroke="#f00000" stroke-width="2.1"/><circle cx="1187.3" cy="374.8" r="8.6" fill="#fff" stroke="#f00000" stroke-width="2.1"/><circle cx="1196.9" cy="374.1" r="8.6" fill="#fff" stroke="#f00000" stroke-width="2.1"/><circle cx="1206.5" cy="377.6" r="8.6" fill="#fff" stroke="#f00000" stroke-width="2.1"/><circle cx="1216.1" cy="379.4" r="8.6" fill="#fff" stroke="#f00000" stroke-width="2.1"/><circle cx="1225.7" cy="378.3" r="8.6" fill="#fff" stroke="#f00000" stroke-width="2.1"/><circle cx="1235.3" cy="379.1" r="8.6" fill="#fff" stroke="#f00000" stroke-width="2.1"/><circle cx="1244.9" cy="381.1" r="8.6" fill="#fff" stroke="#f00000" stroke-width="2.1"/><circle cx="1254.5" cy="382.9" r="8.6" fill="#fff" stroke="#f00000" stroke-width="2.1"/><circle cx="1264.1" cy="384.6" r="8.6" fill="#fff" stroke="#f00000" stroke-width="2.1"/><circle cx="1273.7" cy="382.9" r="8.6" fill="#fff" stroke="#f00000" stroke-width="2.1"/><circle cx="1283.3" cy="387.6" r="8.6" fill="#fff" stroke="#f00000" stroke-width="2.1"/><circle cx="1292.9" cy="386.2" r="8.6" fill="#fff" stroke="#f00000" stroke-width="2.1"/><circle cx="1302.5" cy="391.2" r="8.6" fill="#fff" stroke="#f00000" stroke-width="2.1"/><circle cx="1312.1" cy="392.1" r="8.6" fill="#fff" stroke="#f00000" stroke-width="2.1"/><circle cx="1321.7" cy="393.1" r="8.6" fill="#fff" stroke="#f00000" stroke-width="2.1"/><circle cx="1331.3" cy="395.9" r="8.6" fill="#fff" stroke="#f00000" stroke-width="2.1"/><circle cx="1340.9" cy="398.3" r="8.6" fill="#fff" stroke="#f00000" stroke-width="2.1"/><circle cx="1350.5" cy="403.0" r="8.6" fill="#fff" stroke="#f00000" stroke-width="2.1"/><circle cx="1360.1" cy="397.3" r="8.6" fill="#fff" stroke="#f00000" stroke-width="2.1"/><circle cx="1369.7" cy="401.9" r="8.6" fill="#fff" stroke="#f00000" stroke-width="2.1"/><circle cx="1379.3" cy="400.4" r="8.6" fill="#fff" stroke="#f00000" stroke-width="2.1"/><circle cx="1388.9" cy="401.1" r="8.6" fill="#fff" stroke="#f00000" stroke-width="2.1"/><circle cx="1398.5" cy="404.5" r="8.6" fill="#fff" stroke="#f00000" stroke-width="2.1"/><circle cx="1408.1" cy="406.1" r="8.6" fill="#fff" stroke="#f00000" stroke-width="2.1"/><circle cx="1417.7" cy="414.1" r="8.6" fill="#fff" stroke="#f00000" stroke-width="2.1"/><circle cx="1427.3" cy="409.2" r="8.6" fill="#fff" stroke="#f00000" stroke-width="2.1"/><circle cx="1436.9" cy="410.6" r="8.6" fill="#fff" stroke="#f00000" stroke-width="2.1"/><circle cx="1446.5" cy="411.3" r="8.6" fill="#fff" stroke="#f00000" stroke-width="2.1"/><circle cx="1456.1" cy="411.7" r="8.6" fill="#fff" stroke="#f00000" stroke-width="2.1"/><circle cx="1465.7" cy="411.3" r="8.6" fill="#fff" stroke="#f00000" stroke-width="2.1"/><circle cx="1475.3" cy="414.6" r="8.6" fill="#fff" stroke="#f00000" stroke-width="2.1"/><circle cx="1484.9" cy="415.5" r="8.6" fill="#fff" stroke="#f00000" stroke-width="2.1"/><circle cx="1494.5" cy="416.2" r="8.6" fill="#fff" stroke="#f00000" stroke-width="2.1"/><circle cx="1504.0" cy="417.2" r="8.6" fill="#fff" stroke="#f00000" stroke-width="2.1"/><circle cx="1513.6" cy="417.6" r="8.6" fill="#fff" stroke="#f00000" stroke-width="2.1"/><circle cx="1523.2" cy="424.7" r="8.6" fill="#fff" stroke="#f00000" stroke-width="2.1"/><circle cx="1532.8" cy="417.6" r="8.6" fill="#fff" stroke="#f00000" stroke-width="2.1"/><circle cx="1542.4" cy="421.9" r="8.6" fill="#fff" stroke="#f00000" stroke-width="2.1"/><circle cx="1552.0" cy="422.1" r="8.6" fill="#fff" stroke="#f00000" stroke-width="2.1"/><circle cx="1561.6" cy="422.3" r="8.6" fill="#fff" stroke="#f00000" stroke-width="2.1"/><circle cx="1571.2" cy="421.9" r="8.6" fill="#fff" stroke="#f00000" stroke-width="2.1"/><circle cx="1580.8" cy="425.7" r="8.6" fill="#fff" stroke="#f00000" stroke-width="2.1"/><circle cx="1590.4" cy="423.5" r="8.6" fill="#fff" stroke="#f00000" stroke-width="2.1"/><circle cx="1600.0" cy="425.9" r="8.6" fill="#fff" stroke="#f00000" stroke-width="2.1"/><circle cx="1609.6" cy="424.7" r="8.6" fill="#fff" stroke="#f00000" stroke-width="2.1"/><circle cx="1619.2" cy="427.8" r="8.6" fill="#fff" stroke="#f00000" stroke-width="2.1"/><circle cx="1628.8" cy="429.0" r="8.6" fill="#fff" stroke="#f00000" stroke-width="2.1"/><circle cx="1638.4" cy="431.0" r="8.6" fill="#fff" stroke="#f00000" stroke-width="2.1"/><circle cx="1648.0" cy="433.5" r="8.6" fill="#fff" stroke="#f00000" stroke-width="2.1"/><circle cx="1657.6" cy="434.2" r="8.6" fill="#fff" stroke="#f00000" stroke-width="2.1"/><circle cx="1667.2" cy="436.9" r="8.6" fill="#fff" stroke="#f00000" stroke-width="2.1"/><circle cx="1676.8" cy="443.4" r="8.6" fill="#fff" stroke="#f00000" stroke-width="2.1"/><circle cx="1686.4" cy="441.9" r="8.6" fill="#fff" stroke="#f00000" stroke-width="2.1"/><circle cx="1696.0" cy="444.1" r="8.6" fill="#fff" stroke="#f00000" stroke-width="2.1"/><circle cx="1705.6" cy="446.5" r="8.6" fill="#fff" stroke="#f00000" stroke-width="2.1"/><circle cx="1715.2" cy="451.4" r="8.6" fill="#fff" stroke="#f00000" stroke-width="2.1"/><circle cx="1724.8" cy="454.7" r="8.6" fill="#fff" stroke="#f00000" stroke-width="2.1"/><circle cx="1734.4" cy="459.8" r="8.6" fill="#fff" stroke="#f00000" stroke-width="2.1"/><circle cx="1744.0" cy="462.9" r="8.6" fill="#fff" stroke="#f00000" stroke-width="2.1"/><circle cx="1753.6" cy="466.5" r="8.6" fill="#fff" stroke="#f00000" stroke-width="2.1"/><circle cx="1763.2" cy="471.5" r="8.6" fill="#fff" stroke="#f00000" stroke-width="2.1"/><circle cx="1772.8" cy="476.7" r="8.6" fill="#fff" stroke="#f00000" stroke-width="2.1"/><circle cx="1782.4" cy="482.3" r="8.6" fill="#fff" stroke="#f00000" stroke-width="2.1"/><circle cx="1792.0" cy="487.9" r="8.6" fill="#fff" stroke="#f00000" stroke-width="2.1"/><circle cx="1801.6" cy="492.8" r="8.6" fill="#fff" stroke="#f00000" stroke-width="2.1"/><circle cx="1811.2" cy="497.7" r="8.6" fill="#fff" stroke="#f00000" stroke-width="2.1"/><circle cx="1820.8" cy="502.0" r="8.6" fill="#fff" stroke="#f00000" stroke-width="2.1"/><circle cx="1830.3" cy="506.9" r="8.6" fill="#fff" stroke="#f00000" stroke-width="2.1"/><circle cx="1839.9" cy="512.5" r="8.6" fill="#fff" stroke="#f00000" stroke-width="2.1"/><circle cx="1849.5" cy="511.4" r="8.6" fill="#fff" stroke="#f00000" stroke-width="2.1"/><circle cx="1859.1" cy="514.9" r="8.6" fill="#fff" stroke="#f00000" stroke-width="2.1"/><circle cx="1868.7" cy="518.1" r="8.6" fill="#fff" stroke="#f00000" stroke-width="2.1"/><circle cx="1878.3" cy="522.5" r="8.6" fill="#fff" stroke="#f00000" stroke-width="2.1"/><circle cx="1887.9" cy="530.8" r="8.6" fill="#fff" stroke="#f00000" stroke-width="2.1"/><circle cx="1897.5" cy="532.2" r="8.6" fill="#fff" stroke="#f00000" stroke-width="2.1"/><circle cx="1907.1" cy="535.0" r="8.6" fill="#fff" stroke="#f00000" stroke-width="2.1"/><circle cx="1916.7" cy="546.2" r="8.6" fill="#fff" stroke="#f00000" stroke-width="2.1"/><circle cx="1926.3" cy="544.1" r="8.6" fill="#fff" stroke="#f00000" stroke-width="2.1"/><circle cx="1935.9" cy="550.4" r="8.6" fill="#fff" stroke="#f00000" stroke-width="2.1"/><circle cx="1945.5" cy="551.8" r="8.6" fill="#fff" stroke="#f00000" stroke-width="2.1"/><circle cx="1955.1" cy="556.1" r="8.6" fill="#fff" stroke="#f00000" stroke-width="2.1"/><circle cx="1964.7" cy="561.0" r="8.6" fill="#fff" stroke="#f00000" stroke-width="2.1"/><circle cx="1974.3" cy="562.4" r="8.6" fill="#fff" stroke="#f00000" stroke-width="2.1"/><circle cx="1983.9" cy="565.2" r="8.6" fill="#fff" stroke="#f00000" stroke-width="2.1"/><circle cx="1993.5" cy="572.9" r="8.6" fill="#fff" stroke="#f00000" stroke-width="2.1"/><circle cx="2003.1" cy="573.6" r="8.6" fill="#fff" stroke="#f00000" stroke-width="2.1"/><circle cx="2012.7" cy="575.0" r="8.6" fill="#fff" stroke="#f00000" stroke-width="2.1"/><circle cx="2022.3" cy="577.8" r="8.6" fill="#fff" stroke="#f00000" stroke-width="2.1"/><circle cx="2031.9" cy="579.9" r="8.6" fill="#fff" stroke="#f00000" stroke-width="2.1"/><circle cx="2041.5" cy="584.2" r="8.6" fill="#fff" stroke="#f00000" stroke-width="2.1"/><circle cx="2051.1" cy="586.3" r="8.6" fill="#fff" stroke="#f00000" stroke-width="2.1"/><circle cx="2060.7" cy="589.8" r="8.6" fill="#fff" stroke="#f00000" stroke-width="2.1"/><circle cx="2070.3" cy="591.2" r="8.6" fill="#fff" stroke="#f00000" stroke-width="2.1"/><circle cx="2079.9" cy="596.1" r="8.6" fill="#fff" stroke="#f00000" stroke-width="2.1"/><polyline points="1033.8,463.3 1043.4,472.2 1053.0,475.0 1062.6,476.0 1072.2,475.5 1081.8,474.6 1091.4,473.2 1101.0,472.9 1110.6,471.7 1120.2,471.3 1129.8,470.8 1139.4,469.6 1149.0,469.6 1158.6,470.0 1168.2,469.3 1177.8,469.3 1187.3,469.6 1196.9,469.6 1206.5,469.8 1216.1,470.0 1225.7,470.1 1235.3,470.1 1244.9,470.2 1254.5,470.3 1264.1,470.3 1273.7,470.6 1283.3,470.9 1292.9,471.2 1302.5,471.5 1312.1,471.7 1321.7,472.2 1331.3,472.6 1340.9,473.0 1350.5,473.4 1360.1,473.9 1369.7,474.2 1379.3,474.6 1388.9,474.9 1398.5,475.3 1408.1,476.1 1417.7,477.0 1427.3,477.9 1436.9,478.8 1446.5,479.1 1456.1,479.5 1465.7,479.8 1475.3,480.2 1484.9,481.3 1494.5,482.5 1504.0,483.7 1513.6,485.1 1523.2,486.5 1532.8,487.4 1542.4,488.3 1552.0,489.1 1561.6,490.0 1571.2,490.9 1580.8,491.8 1590.4,492.6 1600.0,493.5 1609.6,494.9 1619.2,496.3 1628.8,498.1 1638.4,499.8 1648.0,499.1 1657.6,501.3 1667.2,502.7 1676.8,504.8 1686.4,508.6 1696.0,511.4 1705.6,513.2 1715.2,515.3 1724.8,516.7 1734.4,521.8 1744.0,525.5 1753.6,531.5 1763.2,532.9 1772.8,537.1 1782.4,539.9 1792.0,545.5 1801.6,551.3 1811.2,556.3 1820.8,560.5 1830.3,565.5 1839.9,574.7 1849.5,583.2 1859.1,595.8 1868.7,604.2 1878.3,613.5 1887.9,621.9 1897.5,631.1 1907.1,638.7 1916.7,644.6 1926.3,649.3 1935.9,654.6 1945.5,659.1 1955.1,663.3 1964.7,666.4 1974.3,671.3 1983.9,674.8 1993.5,678.0 2003.1,680.6 2012.7,683.8 2022.3,685.9 2031.9,690.3 2041.5,692.2 2051.1,694.8 2060.7,697.4 2070.3,699.0 2079.9,701.1" fill="none" stroke="#0000f0" stroke-width="2.2" stroke-linejoin="round"/><polygon points="1033.8,452.4 1025.5,468.8 1042.1,468.8" fill="#fff" stroke="#0000f0" stroke-width="2.2" stroke-linejoin="miter"/><rect x="1032.8" y="462.3" width="2" height="2" fill="#0000f0"/><polygon points="1043.4,461.2 1035.1,477.6 1051.7,477.6" fill="#fff" stroke="#0000f0" stroke-width="2.2" stroke-linejoin="miter"/><rect x="1042.4" y="471.2" width="2" height="2" fill="#0000f0"/><polygon points="1053.0,464.1 1044.7,480.5 1061.3,480.5" fill="#fff" stroke="#0000f0" stroke-width="2.2" stroke-linejoin="miter"/><rect x="1052.0" y="474.0" width="2" height="2" fill="#0000f0"/><polygon points="1062.6,465.0 1054.3,481.4 1070.9,481.4" fill="#fff" stroke="#0000f0" stroke-width="2.2" stroke-linejoin="miter"/><rect x="1061.6" y="475.0" width="2" height="2" fill="#0000f0"/><polygon points="1072.2,464.6 1063.9,481.0 1080.5,481.0" fill="#fff" stroke="#0000f0" stroke-width="2.2" stroke-linejoin="miter"/><rect x="1071.2" y="474.5" width="2" height="2" fill="#0000f0"/><polygon points="1081.8,463.6 1073.5,480.0 1090.1,480.0" fill="#fff" stroke="#0000f0" stroke-width="2.2" stroke-linejoin="miter"/><rect x="1080.8" y="473.6" width="2" height="2" fill="#0000f0"/><polygon points="1091.4,462.2 1083.1,478.6 1099.7,478.6" fill="#fff" stroke="#0000f0" stroke-width="2.2" stroke-linejoin="miter"/><rect x="1090.4" y="472.2" width="2" height="2" fill="#0000f0"/><polygon points="1101.0,462.0 1092.7,478.4 1109.3,478.4" fill="#fff" stroke="#0000f0" stroke-width="2.2" stroke-linejoin="miter"/><rect x="1100.0" y="471.9" width="2" height="2" fill="#0000f0"/><polygon points="1110.6,460.8 1102.3,477.2 1118.9,477.2" fill="#fff" stroke="#0000f0" stroke-width="2.2" stroke-linejoin="miter"/><rect x="1109.6" y="470.7" width="2" height="2" fill="#0000f0"/><polygon points="1120.2,460.3 1111.9,476.7 1128.5,476.7" fill="#fff" stroke="#0000f0" stroke-width="2.2" stroke-linejoin="miter"/><rect x="1119.2" y="470.3" width="2" height="2" fill="#0000f0"/><polygon points="1129.8,459.8 1121.5,476.2 1138.1,476.2" fill="#fff" stroke="#0000f0" stroke-width="2.2" stroke-linejoin="miter"/><rect x="1128.8" y="469.8" width="2" height="2" fill="#0000f0"/><polygon points="1139.4,458.7 1131.1,475.1 1147.7,475.1" fill="#fff" stroke="#0000f0" stroke-width="2.2" stroke-linejoin="miter"/><rect x="1138.4" y="468.6" width="2" height="2" fill="#0000f0"/><polygon points="1149.0,458.7 1140.7,475.1 1157.3,475.1" fill="#fff" stroke="#0000f0" stroke-width="2.2" stroke-linejoin="miter"/><rect x="1148.0" y="468.6" width="2" height="2" fill="#0000f0"/><polygon points="1158.6,459.1 1150.3,475.5 1166.9,475.5" fill="#fff" stroke="#0000f0" stroke-width="2.2" stroke-linejoin="miter"/><rect x="1157.6" y="469.0" width="2" height="2" fill="#0000f0"/><polygon points="1168.2,458.4 1159.9,474.8 1176.5,474.8" fill="#fff" stroke="#0000f0" stroke-width="2.2" stroke-linejoin="miter"/><rect x="1167.2" y="468.3" width="2" height="2" fill="#0000f0"/><polygon points="1177.8,458.4 1169.5,474.8 1186.1,474.8" fill="#fff" stroke="#0000f0" stroke-width="2.2" stroke-linejoin="miter"/><rect x="1176.8" y="468.3" width="2" height="2" fill="#0000f0"/><polygon points="1187.3,458.7 1179.0,475.1 1195.6,475.1" fill="#fff" stroke="#0000f0" stroke-width="2.2" stroke-linejoin="miter"/><rect x="1186.3" y="468.6" width="2" height="2" fill="#0000f0"/><polygon points="1196.9,458.7 1188.6,475.1 1205.2,475.1" fill="#fff" stroke="#0000f0" stroke-width="2.2" stroke-linejoin="miter"/><rect x="1195.9" y="468.6" width="2" height="2" fill="#0000f0"/><polygon points="1206.5,458.9 1198.2,475.3 1214.8,475.3" fill="#fff" stroke="#0000f0" stroke-width="2.2" stroke-linejoin="miter"/><rect x="1205.5" y="468.8" width="2" height="2" fill="#0000f0"/><polygon points="1216.1,459.1 1207.8,475.5 1224.4,475.5" fill="#fff" stroke="#0000f0" stroke-width="2.2" stroke-linejoin="miter"/><rect x="1215.1" y="469.0" width="2" height="2" fill="#0000f0"/><polygon points="1225.7,459.1 1217.4,475.5 1234.0,475.5" fill="#fff" stroke="#0000f0" stroke-width="2.2" stroke-linejoin="miter"/><rect x="1224.7" y="469.1" width="2" height="2" fill="#0000f0"/><polygon points="1235.3,459.2 1227.0,475.6 1243.6,475.6" fill="#fff" stroke="#0000f0" stroke-width="2.2" stroke-linejoin="miter"/><rect x="1234.3" y="469.1" width="2" height="2" fill="#0000f0"/><polygon points="1244.9,459.3 1236.6,475.7 1253.2,475.7" fill="#fff" stroke="#0000f0" stroke-width="2.2" stroke-linejoin="miter"/><rect x="1243.9" y="469.2" width="2" height="2" fill="#0000f0"/><polygon points="1254.5,459.3 1246.2,475.7 1262.8,475.7" fill="#fff" stroke="#0000f0" stroke-width="2.2" stroke-linejoin="miter"/><rect x="1253.5" y="469.3" width="2" height="2" fill="#0000f0"/><polygon points="1264.1,459.4 1255.8,475.8 1272.4,475.8" fill="#fff" stroke="#0000f0" stroke-width="2.2" stroke-linejoin="miter"/><rect x="1263.1" y="469.3" width="2" height="2" fill="#0000f0"/><polygon points="1273.7,459.7 1265.4,476.1 1282.0,476.1" fill="#fff" stroke="#0000f0" stroke-width="2.2" stroke-linejoin="miter"/><rect x="1272.7" y="469.6" width="2" height="2" fill="#0000f0"/><polygon points="1283.3,460.0 1275.0,476.4 1291.6,476.4" fill="#fff" stroke="#0000f0" stroke-width="2.2" stroke-linejoin="miter"/><rect x="1282.3" y="469.9" width="2" height="2" fill="#0000f0"/><polygon points="1292.9,460.3 1284.6,476.7 1301.2,476.7" fill="#fff" stroke="#0000f0" stroke-width="2.2" stroke-linejoin="miter"/><rect x="1291.9" y="470.2" width="2" height="2" fill="#0000f0"/><polygon points="1302.5,460.5 1294.2,476.9 1310.8,476.9" fill="#fff" stroke="#0000f0" stroke-width="2.2" stroke-linejoin="miter"/><rect x="1301.5" y="470.5" width="2" height="2" fill="#0000f0"/><polygon points="1312.1,460.8 1303.8,477.2 1320.4,477.2" fill="#fff" stroke="#0000f0" stroke-width="2.2" stroke-linejoin="miter"/><rect x="1311.1" y="470.7" width="2" height="2" fill="#0000f0"/><polygon points="1321.7,461.2 1313.4,477.6 1330.0,477.6" fill="#fff" stroke="#0000f0" stroke-width="2.2" stroke-linejoin="miter"/><rect x="1320.7" y="471.2" width="2" height="2" fill="#0000f0"/><polygon points="1331.3,461.7 1323.0,478.1 1339.6,478.1" fill="#fff" stroke="#0000f0" stroke-width="2.2" stroke-linejoin="miter"/><rect x="1330.3" y="471.6" width="2" height="2" fill="#0000f0"/><polygon points="1340.9,462.1 1332.6,478.5 1349.2,478.5" fill="#fff" stroke="#0000f0" stroke-width="2.2" stroke-linejoin="miter"/><rect x="1339.9" y="472.0" width="2" height="2" fill="#0000f0"/><polygon points="1350.5,462.5 1342.2,478.9 1358.8,478.9" fill="#fff" stroke="#0000f0" stroke-width="2.2" stroke-linejoin="miter"/><rect x="1349.5" y="472.4" width="2" height="2" fill="#0000f0"/><polygon points="1360.1,462.9 1351.8,479.3 1368.4,479.3" fill="#fff" stroke="#0000f0" stroke-width="2.2" stroke-linejoin="miter"/><rect x="1359.1" y="472.9" width="2" height="2" fill="#0000f0"/><polygon points="1369.7,463.3 1361.4,479.7 1378.0,479.7" fill="#fff" stroke="#0000f0" stroke-width="2.2" stroke-linejoin="miter"/><rect x="1368.7" y="473.2" width="2" height="2" fill="#0000f0"/><polygon points="1379.3,463.6 1371.0,480.0 1387.6,480.0" fill="#fff" stroke="#0000f0" stroke-width="2.2" stroke-linejoin="miter"/><rect x="1378.3" y="473.6" width="2" height="2" fill="#0000f0"/><polygon points="1388.9,464.0 1380.6,480.4 1397.2,480.4" fill="#fff" stroke="#0000f0" stroke-width="2.2" stroke-linejoin="miter"/><rect x="1387.9" y="473.9" width="2" height="2" fill="#0000f0"/><polygon points="1398.5,464.3 1390.2,480.7 1406.8,480.7" fill="#fff" stroke="#0000f0" stroke-width="2.2" stroke-linejoin="miter"/><rect x="1397.5" y="474.3" width="2" height="2" fill="#0000f0"/><polygon points="1408.1,465.2 1399.8,481.6 1416.4,481.6" fill="#fff" stroke="#0000f0" stroke-width="2.2" stroke-linejoin="miter"/><rect x="1407.1" y="475.1" width="2" height="2" fill="#0000f0"/><polygon points="1417.7,466.1 1409.4,482.5 1426.0,482.5" fill="#fff" stroke="#0000f0" stroke-width="2.2" stroke-linejoin="miter"/><rect x="1416.7" y="476.0" width="2" height="2" fill="#0000f0"/><polygon points="1427.3,467.0 1419.0,483.4 1435.6,483.4" fill="#fff" stroke="#0000f0" stroke-width="2.2" stroke-linejoin="miter"/><rect x="1426.3" y="476.9" width="2" height="2" fill="#0000f0"/><polygon points="1436.9,467.8 1428.6,484.2 1445.2,484.2" fill="#fff" stroke="#0000f0" stroke-width="2.2" stroke-linejoin="miter"/><rect x="1435.9" y="477.8" width="2" height="2" fill="#0000f0"/><polygon points="1446.5,468.2 1438.2,484.6 1454.8,484.6" fill="#fff" stroke="#0000f0" stroke-width="2.2" stroke-linejoin="miter"/><rect x="1445.5" y="478.1" width="2" height="2" fill="#0000f0"/><polygon points="1456.1,468.5 1447.8,484.9 1464.4,484.9" fill="#fff" stroke="#0000f0" stroke-width="2.2" stroke-linejoin="miter"/><rect x="1455.1" y="478.5" width="2" height="2" fill="#0000f0"/><polygon points="1465.7,468.9 1457.4,485.3 1474.0,485.3" fill="#fff" stroke="#0000f0" stroke-width="2.2" stroke-linejoin="miter"/><rect x="1464.7" y="478.8" width="2" height="2" fill="#0000f0"/><polygon points="1475.3,469.2 1467.0,485.6 1483.6,485.6" fill="#fff" stroke="#0000f0" stroke-width="2.2" stroke-linejoin="miter"/><rect x="1474.3" y="479.2" width="2" height="2" fill="#0000f0"/><polygon points="1484.9,470.4 1476.6,486.8 1493.2,486.8" fill="#fff" stroke="#0000f0" stroke-width="2.2" stroke-linejoin="miter"/><rect x="1483.9" y="480.3" width="2" height="2" fill="#0000f0"/><polygon points="1494.5,471.6 1486.2,488.0 1502.8,488.0" fill="#fff" stroke="#0000f0" stroke-width="2.2" stroke-linejoin="miter"/><rect x="1493.5" y="481.5" width="2" height="2" fill="#0000f0"/><polygon points="1504.0,472.8 1495.8,489.2 1512.3,489.2" fill="#fff" stroke="#0000f0" stroke-width="2.2" stroke-linejoin="miter"/><rect x="1503.0" y="482.7" width="2" height="2" fill="#0000f0"/><polygon points="1513.6,474.2 1505.3,490.6 1521.9,490.6" fill="#fff" stroke="#0000f0" stroke-width="2.2" stroke-linejoin="miter"/><rect x="1512.6" y="484.1" width="2" height="2" fill="#0000f0"/><polygon points="1523.2,475.6 1514.9,492.0 1531.5,492.0" fill="#fff" stroke="#0000f0" stroke-width="2.2" stroke-linejoin="miter"/><rect x="1522.2" y="485.5" width="2" height="2" fill="#0000f0"/><polygon points="1532.8,476.4 1524.5,492.8 1541.1,492.8" fill="#fff" stroke="#0000f0" stroke-width="2.2" stroke-linejoin="miter"/><rect x="1531.8" y="486.4" width="2" height="2" fill="#0000f0"/><polygon points="1542.4,477.3 1534.1,493.7 1550.7,493.7" fill="#fff" stroke="#0000f0" stroke-width="2.2" stroke-linejoin="miter"/><rect x="1541.4" y="487.3" width="2" height="2" fill="#0000f0"/><polygon points="1552.0,478.2 1543.7,494.6 1560.3,494.6" fill="#fff" stroke="#0000f0" stroke-width="2.2" stroke-linejoin="miter"/><rect x="1551.0" y="488.1" width="2" height="2" fill="#0000f0"/><polygon points="1561.6,479.1 1553.3,495.5 1569.9,495.5" fill="#fff" stroke="#0000f0" stroke-width="2.2" stroke-linejoin="miter"/><rect x="1560.6" y="489.0" width="2" height="2" fill="#0000f0"/><polygon points="1571.2,480.0 1562.9,496.4 1579.5,496.4" fill="#fff" stroke="#0000f0" stroke-width="2.2" stroke-linejoin="miter"/><rect x="1570.2" y="489.9" width="2" height="2" fill="#0000f0"/><polygon points="1580.8,480.8 1572.5,497.2 1589.1,497.2" fill="#fff" stroke="#0000f0" stroke-width="2.2" stroke-linejoin="miter"/><rect x="1579.8" y="490.8" width="2" height="2" fill="#0000f0"/><polygon points="1590.4,481.7 1582.1,498.1 1598.7,498.1" fill="#fff" stroke="#0000f0" stroke-width="2.2" stroke-linejoin="miter"/><rect x="1589.4" y="491.6" width="2" height="2" fill="#0000f0"/><polygon points="1600.0,482.6 1591.7,499.0 1608.3,499.0" fill="#fff" stroke="#0000f0" stroke-width="2.2" stroke-linejoin="miter"/><rect x="1599.0" y="492.5" width="2" height="2" fill="#0000f0"/><polygon points="1609.6,484.0 1601.3,500.4 1617.9,500.4" fill="#fff" stroke="#0000f0" stroke-width="2.2" stroke-linejoin="miter"/><rect x="1608.6" y="493.9" width="2" height="2" fill="#0000f0"/><polygon points="1619.2,485.4 1610.9,501.8 1627.5,501.8" fill="#fff" stroke="#0000f0" stroke-width="2.2" stroke-linejoin="miter"/><rect x="1618.2" y="495.3" width="2" height="2" fill="#0000f0"/><polygon points="1628.8,487.2 1620.5,503.6 1637.1,503.6" fill="#fff" stroke="#0000f0" stroke-width="2.2" stroke-linejoin="miter"/><rect x="1627.8" y="497.1" width="2" height="2" fill="#0000f0"/><polygon points="1638.4,488.9 1630.1,505.3 1646.7,505.3" fill="#fff" stroke="#0000f0" stroke-width="2.2" stroke-linejoin="miter"/><rect x="1637.4" y="498.8" width="2" height="2" fill="#0000f0"/><polygon points="1648.0,488.2 1639.7,504.6 1656.3,504.6" fill="#fff" stroke="#0000f0" stroke-width="2.2" stroke-linejoin="miter"/><rect x="1647.0" y="498.1" width="2" height="2" fill="#0000f0"/><polygon points="1657.6,490.3 1649.3,506.7 1665.9,506.7" fill="#fff" stroke="#0000f0" stroke-width="2.2" stroke-linejoin="miter"/><rect x="1656.6" y="500.3" width="2" height="2" fill="#0000f0"/><polygon points="1667.2,491.7 1658.9,508.1 1675.5,508.1" fill="#fff" stroke="#0000f0" stroke-width="2.2" stroke-linejoin="miter"/><rect x="1666.2" y="501.7" width="2" height="2" fill="#0000f0"/><polygon points="1676.8,493.8 1668.5,510.2 1685.1,510.2" fill="#fff" stroke="#0000f0" stroke-width="2.2" stroke-linejoin="miter"/><rect x="1675.8" y="503.8" width="2" height="2" fill="#0000f0"/><polygon points="1686.4,497.6 1678.1,514.0 1694.7,514.0" fill="#fff" stroke="#0000f0" stroke-width="2.2" stroke-linejoin="miter"/><rect x="1685.4" y="507.6" width="2" height="2" fill="#0000f0"/><polygon points="1696.0,500.5 1687.7,516.9 1704.3,516.9" fill="#fff" stroke="#0000f0" stroke-width="2.2" stroke-linejoin="miter"/><rect x="1695.0" y="510.4" width="2" height="2" fill="#0000f0"/><polygon points="1705.6,502.3 1697.3,518.7 1713.9,518.7" fill="#fff" stroke="#0000f0" stroke-width="2.2" stroke-linejoin="miter"/><rect x="1704.6" y="512.2" width="2" height="2" fill="#0000f0"/><polygon points="1715.2,504.4 1706.9,520.8 1723.5,520.8" fill="#fff" stroke="#0000f0" stroke-width="2.2" stroke-linejoin="miter"/><rect x="1714.2" y="514.3" width="2" height="2" fill="#0000f0"/><polygon points="1724.8,505.8 1716.5,522.2 1733.1,522.2" fill="#fff" stroke="#0000f0" stroke-width="2.2" stroke-linejoin="miter"/><rect x="1723.8" y="515.7" width="2" height="2" fill="#0000f0"/><polygon points="1734.4,510.8 1726.1,527.2 1742.7,527.2" fill="#fff" stroke="#0000f0" stroke-width="2.2" stroke-linejoin="miter"/><rect x="1733.4" y="520.8" width="2" height="2" fill="#0000f0"/><polygon points="1744.0,514.6 1735.7,531.0 1752.3,531.0" fill="#fff" stroke="#0000f0" stroke-width="2.2" stroke-linejoin="miter"/><rect x="1743.0" y="524.5" width="2" height="2" fill="#0000f0"/><polygon points="1753.6,520.5 1745.3,536.9 1761.9,536.9" fill="#fff" stroke="#0000f0" stroke-width="2.2" stroke-linejoin="miter"/><rect x="1752.6" y="530.5" width="2" height="2" fill="#0000f0"/><polygon points="1763.2,521.9 1754.9,538.3 1771.5,538.3" fill="#fff" stroke="#0000f0" stroke-width="2.2" stroke-linejoin="miter"/><rect x="1762.2" y="531.9" width="2" height="2" fill="#0000f0"/><polygon points="1772.8,526.2 1764.5,542.6 1781.1,542.6" fill="#fff" stroke="#0000f0" stroke-width="2.2" stroke-linejoin="miter"/><rect x="1771.8" y="536.1" width="2" height="2" fill="#0000f0"/><polygon points="1782.4,529.0 1774.1,545.4 1790.7,545.4" fill="#fff" stroke="#0000f0" stroke-width="2.2" stroke-linejoin="miter"/><rect x="1781.4" y="538.9" width="2" height="2" fill="#0000f0"/><polygon points="1792.0,534.6 1783.7,551.0 1800.3,551.0" fill="#fff" stroke="#0000f0" stroke-width="2.2" stroke-linejoin="miter"/><rect x="1791.0" y="544.5" width="2" height="2" fill="#0000f0"/><polygon points="1801.6,540.3 1793.3,556.7 1809.9,556.7" fill="#fff" stroke="#0000f0" stroke-width="2.2" stroke-linejoin="miter"/><rect x="1800.6" y="550.3" width="2" height="2" fill="#0000f0"/><polygon points="1811.2,545.3 1802.9,561.7 1819.5,561.7" fill="#fff" stroke="#0000f0" stroke-width="2.2" stroke-linejoin="miter"/><rect x="1810.2" y="555.3" width="2" height="2" fill="#0000f0"/><polygon points="1820.8,549.6 1812.5,566.0 1829.1,566.0" fill="#fff" stroke="#0000f0" stroke-width="2.2" stroke-linejoin="miter"/><rect x="1819.8" y="559.5" width="2" height="2" fill="#0000f0"/><polygon points="1830.3,554.6 1822.0,571.0 1838.6,571.0" fill="#fff" stroke="#0000f0" stroke-width="2.2" stroke-linejoin="miter"/><rect x="1829.3" y="564.5" width="2" height="2" fill="#0000f0"/><polygon points="1839.9,563.8 1831.6,580.2 1848.2,580.2" fill="#fff" stroke="#0000f0" stroke-width="2.2" stroke-linejoin="miter"/><rect x="1838.9" y="573.7" width="2" height="2" fill="#0000f0"/><polygon points="1849.5,572.2 1841.2,588.6 1857.8,588.6" fill="#fff" stroke="#0000f0" stroke-width="2.2" stroke-linejoin="miter"/><rect x="1848.5" y="582.2" width="2" height="2" fill="#0000f0"/><polygon points="1859.1,584.8 1850.8,601.2 1867.4,601.2" fill="#fff" stroke="#0000f0" stroke-width="2.2" stroke-linejoin="miter"/><rect x="1858.1" y="594.8" width="2" height="2" fill="#0000f0"/><polygon points="1868.7,593.3 1860.4,609.7 1877.0,609.7" fill="#fff" stroke="#0000f0" stroke-width="2.2" stroke-linejoin="miter"/><rect x="1867.7" y="603.2" width="2" height="2" fill="#0000f0"/><polygon points="1878.3,602.5 1870.0,618.9 1886.6,618.9" fill="#fff" stroke="#0000f0" stroke-width="2.2" stroke-linejoin="miter"/><rect x="1877.3" y="612.5" width="2" height="2" fill="#0000f0"/><polygon points="1887.9,611.0 1879.6,627.4 1896.2,627.4" fill="#fff" stroke="#0000f0" stroke-width="2.2" stroke-linejoin="miter"/><rect x="1886.9" y="620.9" width="2" height="2" fill="#0000f0"/><polygon points="1897.5,620.2 1889.2,636.6 1905.8,636.6" fill="#fff" stroke="#0000f0" stroke-width="2.2" stroke-linejoin="miter"/><rect x="1896.5" y="630.1" width="2" height="2" fill="#0000f0"/><polygon points="1907.1,627.8 1898.8,644.2 1915.4,644.2" fill="#fff" stroke="#0000f0" stroke-width="2.2" stroke-linejoin="miter"/><rect x="1906.1" y="637.7" width="2" height="2" fill="#0000f0"/><polygon points="1916.7,633.7 1908.4,650.1 1925.0,650.1" fill="#fff" stroke="#0000f0" stroke-width="2.2" stroke-linejoin="miter"/><rect x="1915.7" y="643.6" width="2" height="2" fill="#0000f0"/><polygon points="1926.3,638.4 1918.0,654.8 1934.6,654.8" fill="#fff" stroke="#0000f0" stroke-width="2.2" stroke-linejoin="miter"/><rect x="1925.3" y="648.3" width="2" height="2" fill="#0000f0"/><polygon points="1935.9,643.6 1927.6,660.0 1944.2,660.0" fill="#fff" stroke="#0000f0" stroke-width="2.2" stroke-linejoin="miter"/><rect x="1934.9" y="653.6" width="2" height="2" fill="#0000f0"/><polygon points="1945.5,648.1 1937.2,664.5 1953.8,664.5" fill="#fff" stroke="#0000f0" stroke-width="2.2" stroke-linejoin="miter"/><rect x="1944.5" y="658.1" width="2" height="2" fill="#0000f0"/><polygon points="1955.1,652.3 1946.8,668.7 1963.4,668.7" fill="#fff" stroke="#0000f0" stroke-width="2.2" stroke-linejoin="miter"/><rect x="1954.1" y="662.3" width="2" height="2" fill="#0000f0"/><polygon points="1964.7,655.4 1956.4,671.8 1973.0,671.8" fill="#fff" stroke="#0000f0" stroke-width="2.2" stroke-linejoin="miter"/><rect x="1963.7" y="665.4" width="2" height="2" fill="#0000f0"/><polygon points="1974.3,660.4 1966.0,676.8 1982.6,676.8" fill="#fff" stroke="#0000f0" stroke-width="2.2" stroke-linejoin="miter"/><rect x="1973.3" y="670.3" width="2" height="2" fill="#0000f0"/><polygon points="1983.9,663.9 1975.6,680.3 1992.2,680.3" fill="#fff" stroke="#0000f0" stroke-width="2.2" stroke-linejoin="miter"/><rect x="1982.9" y="673.8" width="2" height="2" fill="#0000f0"/><polygon points="1993.5,667.0 1985.2,683.4 2001.8,683.4" fill="#fff" stroke="#0000f0" stroke-width="2.2" stroke-linejoin="miter"/><rect x="1992.5" y="677.0" width="2" height="2" fill="#0000f0"/><polygon points="2003.1,669.6 1994.8,686.0 2011.4,686.0" fill="#fff" stroke="#0000f0" stroke-width="2.2" stroke-linejoin="miter"/><rect x="2002.1" y="679.6" width="2" height="2" fill="#0000f0"/><polygon points="2012.7,672.9 2004.4,689.3 2021.0,689.3" fill="#fff" stroke="#0000f0" stroke-width="2.2" stroke-linejoin="miter"/><rect x="2011.7" y="682.8" width="2" height="2" fill="#0000f0"/><polygon points="2022.3,675.0 2014.0,691.4 2030.6,691.4" fill="#fff" stroke="#0000f0" stroke-width="2.2" stroke-linejoin="miter"/><rect x="2021.3" y="684.9" width="2" height="2" fill="#0000f0"/><polygon points="2031.9,679.3 2023.6,695.7 2040.2,695.7" fill="#fff" stroke="#0000f0" stroke-width="2.2" stroke-linejoin="miter"/><rect x="2030.9" y="689.3" width="2" height="2" fill="#0000f0"/><polygon points="2041.5,681.2 2033.2,697.6 2049.8,697.6" fill="#fff" stroke="#0000f0" stroke-width="2.2" stroke-linejoin="miter"/><rect x="2040.5" y="691.2" width="2" height="2" fill="#0000f0"/><polygon points="2051.1,683.8 2042.8,700.2 2059.4,700.2" fill="#fff" stroke="#0000f0" stroke-width="2.2" stroke-linejoin="miter"/><rect x="2050.1" y="693.8" width="2" height="2" fill="#0000f0"/><polygon points="2060.7,686.5 2052.4,702.9 2069.0,702.9" fill="#fff" stroke="#0000f0" stroke-width="2.2" stroke-linejoin="miter"/><rect x="2059.7" y="696.4" width="2" height="2" fill="#0000f0"/><polygon points="2070.3,688.0 2062.0,704.4 2078.6,704.4" fill="#fff" stroke="#0000f0" stroke-width="2.2" stroke-linejoin="miter"/><rect x="2069.3" y="698.0" width="2" height="2" fill="#0000f0"/><polygon points="2079.9,690.1 2071.6,706.5 2088.2,706.5" fill="#fff" stroke="#0000f0" stroke-width="2.2" stroke-linejoin="miter"/><rect x="2078.9" y="700.1" width="2" height="2" fill="#0000f0"/><polygon points="1033.8,496.7 1025.3,479.7 1042.2,479.7" fill="#fff" stroke="#0b840b" stroke-width="2.5" stroke-linejoin="miter"/><rect x="1032.8" y="484.4" width="2" height="2" fill="#0b840b"/><polygon points="1043.4,501.5 1034.9,484.5 1051.8,484.5" fill="#fff" stroke="#0b840b" stroke-width="2.5" stroke-linejoin="miter"/><rect x="1042.4" y="489.2" width="2" height="2" fill="#0b840b"/><polygon points="1053.0,500.6 1044.5,483.6 1061.4,483.6" fill="#fff" stroke="#0b840b" stroke-width="2.5" stroke-linejoin="miter"/><rect x="1052.0" y="488.3" width="2" height="2" fill="#0b840b"/><polygon points="1062.6,500.1 1054.1,483.1 1071.0,483.1" fill="#fff" stroke="#0b840b" stroke-width="2.5" stroke-linejoin="miter"/><rect x="1061.6" y="487.7" width="2" height="2" fill="#0b840b"/><polygon points="1072.2,498.7 1063.7,481.7 1080.6,481.7" fill="#fff" stroke="#0b840b" stroke-width="2.5" stroke-linejoin="miter"/><rect x="1071.2" y="486.3" width="2" height="2" fill="#0b840b"/><polygon points="1081.8,494.4 1073.3,477.4 1090.2,477.4" fill="#fff" stroke="#0b840b" stroke-width="2.5" stroke-linejoin="miter"/><rect x="1080.8" y="482.1" width="2" height="2" fill="#0b840b"/><polygon points="1091.4,492.0 1082.9,475.0 1099.8,475.0" fill="#fff" stroke="#0b840b" stroke-width="2.5" stroke-linejoin="miter"/><rect x="1090.4" y="479.7" width="2" height="2" fill="#0b840b"/><polygon points="1101.0,490.5 1092.5,473.5 1109.4,473.5" fill="#fff" stroke="#0b840b" stroke-width="2.5" stroke-linejoin="miter"/><rect x="1100.0" y="478.1" width="2" height="2" fill="#0b840b"/><polygon points="1110.6,488.7 1102.1,471.7 1119.0,471.7" fill="#fff" stroke="#0b840b" stroke-width="2.5" stroke-linejoin="miter"/><rect x="1109.6" y="476.4" width="2" height="2" fill="#0b840b"/><polygon points="1120.2,487.7 1111.7,470.7 1128.6,470.7" fill="#fff" stroke="#0b840b" stroke-width="2.5" stroke-linejoin="miter"/><rect x="1119.2" y="475.4" width="2" height="2" fill="#0b840b"/><polygon points="1129.8,489.1 1121.3,472.1 1138.2,472.1" fill="#fff" stroke="#0b840b" stroke-width="2.5" stroke-linejoin="miter"/><rect x="1128.8" y="476.8" width="2" height="2" fill="#0b840b"/><polygon points="1139.4,484.9 1130.9,467.9 1147.8,467.9" fill="#fff" stroke="#0b840b" stroke-width="2.5" stroke-linejoin="miter"/><rect x="1138.4" y="472.6" width="2" height="2" fill="#0b840b"/><polygon points="1149.0,484.4 1140.5,467.4 1157.4,467.4" fill="#fff" stroke="#0b840b" stroke-width="2.5" stroke-linejoin="miter"/><rect x="1148.0" y="472.1" width="2" height="2" fill="#0b840b"/><polygon points="1158.6,480.1 1150.1,463.1 1167.0,463.1" fill="#fff" stroke="#0b840b" stroke-width="2.5" stroke-linejoin="miter"/><rect x="1157.6" y="467.7" width="2" height="2" fill="#0b840b"/><polygon points="1168.2,479.6 1159.7,462.6 1176.6,462.6" fill="#fff" stroke="#0b840b" stroke-width="2.5" stroke-linejoin="miter"/><rect x="1167.2" y="467.2" width="2" height="2" fill="#0b840b"/><polygon points="1177.8,478.2 1169.3,461.2 1186.2,461.2" fill="#fff" stroke="#0b840b" stroke-width="2.5" stroke-linejoin="miter"/><rect x="1176.8" y="465.8" width="2" height="2" fill="#0b840b"/><polygon points="1187.3,477.7 1178.9,460.7 1195.8,460.7" fill="#fff" stroke="#0b840b" stroke-width="2.5" stroke-linejoin="miter"/><rect x="1186.3" y="465.3" width="2" height="2" fill="#0b840b"/><polygon points="1196.9,477.6 1188.5,460.6 1205.4,460.6" fill="#fff" stroke="#0b840b" stroke-width="2.5" stroke-linejoin="miter"/><rect x="1195.9" y="465.3" width="2" height="2" fill="#0b840b"/><polygon points="1206.5,477.5 1198.1,460.5 1215.0,460.5" fill="#fff" stroke="#0b840b" stroke-width="2.5" stroke-linejoin="miter"/><rect x="1205.5" y="465.2" width="2" height="2" fill="#0b840b"/><polygon points="1216.1,477.5 1207.7,460.5 1224.6,460.5" fill="#fff" stroke="#0b840b" stroke-width="2.5" stroke-linejoin="miter"/><rect x="1215.1" y="465.1" width="2" height="2" fill="#0b840b"/><polygon points="1225.7,477.4 1217.3,460.4 1234.2,460.4" fill="#fff" stroke="#0b840b" stroke-width="2.5" stroke-linejoin="miter"/><rect x="1224.7" y="465.1" width="2" height="2" fill="#0b840b"/><polygon points="1235.3,477.3 1226.9,460.3 1243.8,460.3" fill="#fff" stroke="#0b840b" stroke-width="2.5" stroke-linejoin="miter"/><rect x="1234.3" y="465.0" width="2" height="2" fill="#0b840b"/><polygon points="1244.9,477.2 1236.5,460.2 1253.4,460.2" fill="#fff" stroke="#0b840b" stroke-width="2.5" stroke-linejoin="miter"/><rect x="1243.9" y="464.9" width="2" height="2" fill="#0b840b"/><polygon points="1254.5,477.2 1246.1,460.2 1263.0,460.2" fill="#fff" stroke="#0b840b" stroke-width="2.5" stroke-linejoin="miter"/><rect x="1253.5" y="464.8" width="2" height="2" fill="#0b840b"/><polygon points="1264.1,477.1 1255.7,460.1 1272.6,460.1" fill="#fff" stroke="#0b840b" stroke-width="2.5" stroke-linejoin="miter"/><rect x="1263.1" y="464.8" width="2" height="2" fill="#0b840b"/><polygon points="1273.7,477.2 1265.3,460.2 1282.2,460.2" fill="#fff" stroke="#0b840b" stroke-width="2.5" stroke-linejoin="miter"/><rect x="1272.7" y="464.8" width="2" height="2" fill="#0b840b"/><polygon points="1283.3,477.2 1274.9,460.2 1291.8,460.2" fill="#fff" stroke="#0b840b" stroke-width="2.5" stroke-linejoin="miter"/><rect x="1282.3" y="464.9" width="2" height="2" fill="#0b840b"/><polygon points="1292.9,477.3 1284.5,460.3 1301.4,460.3" fill="#fff" stroke="#0b840b" stroke-width="2.5" stroke-linejoin="miter"/><rect x="1291.9" y="465.0" width="2" height="2" fill="#0b840b"/><polygon points="1302.5,477.4 1294.1,460.4 1311.0,460.4" fill="#fff" stroke="#0b840b" stroke-width="2.5" stroke-linejoin="miter"/><rect x="1301.5" y="465.1" width="2" height="2" fill="#0b840b"/><polygon points="1312.1,477.5 1303.7,460.5 1320.6,460.5" fill="#fff" stroke="#0b840b" stroke-width="2.5" stroke-linejoin="miter"/><rect x="1311.1" y="465.1" width="2" height="2" fill="#0b840b"/><polygon points="1321.7,477.5 1313.3,460.5 1330.2,460.5" fill="#fff" stroke="#0b840b" stroke-width="2.5" stroke-linejoin="miter"/><rect x="1320.7" y="465.2" width="2" height="2" fill="#0b840b"/><polygon points="1331.3,477.6 1322.9,460.6 1339.8,460.6" fill="#fff" stroke="#0b840b" stroke-width="2.5" stroke-linejoin="miter"/><rect x="1330.3" y="465.3" width="2" height="2" fill="#0b840b"/><polygon points="1340.9,477.7 1332.5,460.7 1349.4,460.7" fill="#fff" stroke="#0b840b" stroke-width="2.5" stroke-linejoin="miter"/><rect x="1339.9" y="465.3" width="2" height="2" fill="#0b840b"/><polygon points="1350.5,477.7 1342.0,460.7 1358.9,460.7" fill="#fff" stroke="#0b840b" stroke-width="2.5" stroke-linejoin="miter"/><rect x="1349.5" y="465.4" width="2" height="2" fill="#0b840b"/><polygon points="1360.1,477.8 1351.6,460.8 1368.5,460.8" fill="#fff" stroke="#0b840b" stroke-width="2.5" stroke-linejoin="miter"/><rect x="1359.1" y="465.5" width="2" height="2" fill="#0b840b"/><polygon points="1369.7,477.9 1361.2,460.9 1378.1,460.9" fill="#fff" stroke="#0b840b" stroke-width="2.5" stroke-linejoin="miter"/><rect x="1368.7" y="465.5" width="2" height="2" fill="#0b840b"/><polygon points="1379.3,477.9 1370.8,460.9 1387.7,460.9" fill="#fff" stroke="#0b840b" stroke-width="2.5" stroke-linejoin="miter"/><rect x="1378.3" y="465.6" width="2" height="2" fill="#0b840b"/><polygon points="1388.9,478.0 1380.4,461.0 1397.3,461.0" fill="#fff" stroke="#0b840b" stroke-width="2.5" stroke-linejoin="miter"/><rect x="1387.9" y="465.7" width="2" height="2" fill="#0b840b"/><polygon points="1398.5,478.1 1390.0,461.1 1406.9,461.1" fill="#fff" stroke="#0b840b" stroke-width="2.5" stroke-linejoin="miter"/><rect x="1397.5" y="465.8" width="2" height="2" fill="#0b840b"/><polygon points="1408.1,478.2 1399.6,461.2 1416.5,461.2" fill="#fff" stroke="#0b840b" stroke-width="2.5" stroke-linejoin="miter"/><rect x="1407.1" y="465.8" width="2" height="2" fill="#0b840b"/><polygon points="1417.7,478.8 1409.2,461.8 1426.1,461.8" fill="#fff" stroke="#0b840b" stroke-width="2.5" stroke-linejoin="miter"/><rect x="1416.7" y="466.4" width="2" height="2" fill="#0b840b"/><polygon points="1427.3,479.4 1418.8,462.4 1435.7,462.4" fill="#fff" stroke="#0b840b" stroke-width="2.5" stroke-linejoin="miter"/><rect x="1426.3" y="467.0" width="2" height="2" fill="#0b840b"/><polygon points="1436.9,480.0 1428.4,463.0 1445.3,463.0" fill="#fff" stroke="#0b840b" stroke-width="2.5" stroke-linejoin="miter"/><rect x="1435.9" y="467.7" width="2" height="2" fill="#0b840b"/><polygon points="1446.5,480.2 1438.0,463.2 1454.9,463.2" fill="#fff" stroke="#0b840b" stroke-width="2.5" stroke-linejoin="miter"/><rect x="1445.5" y="467.9" width="2" height="2" fill="#0b840b"/><polygon points="1456.1,480.5 1447.6,463.5 1464.5,463.5" fill="#fff" stroke="#0b840b" stroke-width="2.5" stroke-linejoin="miter"/><rect x="1455.1" y="468.1" width="2" height="2" fill="#0b840b"/><polygon points="1465.7,480.7 1457.2,463.7 1474.1,463.7" fill="#fff" stroke="#0b840b" stroke-width="2.5" stroke-linejoin="miter"/><rect x="1464.7" y="468.4" width="2" height="2" fill="#0b840b"/><polygon points="1475.3,481.0 1466.8,464.0 1483.7,464.0" fill="#fff" stroke="#0b840b" stroke-width="2.5" stroke-linejoin="miter"/><rect x="1474.3" y="468.6" width="2" height="2" fill="#0b840b"/><polygon points="1484.9,481.2 1476.4,464.2 1493.3,464.2" fill="#fff" stroke="#0b840b" stroke-width="2.5" stroke-linejoin="miter"/><rect x="1483.9" y="468.9" width="2" height="2" fill="#0b840b"/><polygon points="1494.5,481.4 1486.0,464.4 1502.9,464.4" fill="#fff" stroke="#0b840b" stroke-width="2.5" stroke-linejoin="miter"/><rect x="1493.5" y="469.1" width="2" height="2" fill="#0b840b"/><polygon points="1504.0,481.7 1495.6,464.7 1512.5,464.7" fill="#fff" stroke="#0b840b" stroke-width="2.5" stroke-linejoin="miter"/><rect x="1503.0" y="469.3" width="2" height="2" fill="#0b840b"/><polygon points="1513.6,481.9 1505.2,464.9 1522.1,464.9" fill="#fff" stroke="#0b840b" stroke-width="2.5" stroke-linejoin="miter"/><rect x="1512.6" y="469.6" width="2" height="2" fill="#0b840b"/><polygon points="1523.2,482.1 1514.8,465.1 1531.7,465.1" fill="#fff" stroke="#0b840b" stroke-width="2.5" stroke-linejoin="miter"/><rect x="1522.2" y="469.8" width="2" height="2" fill="#0b840b"/><polygon points="1532.8,482.3 1524.4,465.3 1541.3,465.3" fill="#fff" stroke="#0b840b" stroke-width="2.5" stroke-linejoin="miter"/><rect x="1531.8" y="470.0" width="2" height="2" fill="#0b840b"/><polygon points="1542.4,482.5 1534.0,465.5 1550.9,465.5" fill="#fff" stroke="#0b840b" stroke-width="2.5" stroke-linejoin="miter"/><rect x="1541.4" y="470.2" width="2" height="2" fill="#0b840b"/><polygon points="1552.0,482.7 1543.6,465.7 1560.5,465.7" fill="#fff" stroke="#0b840b" stroke-width="2.5" stroke-linejoin="miter"/><rect x="1551.0" y="470.4" width="2" height="2" fill="#0b840b"/><polygon points="1561.6,482.9 1553.2,465.9 1570.1,465.9" fill="#fff" stroke="#0b840b" stroke-width="2.5" stroke-linejoin="miter"/><rect x="1560.6" y="470.6" width="2" height="2" fill="#0b840b"/><polygon points="1571.2,483.1 1562.8,466.1 1579.7,466.1" fill="#fff" stroke="#0b840b" stroke-width="2.5" stroke-linejoin="miter"/><rect x="1570.2" y="470.8" width="2" height="2" fill="#0b840b"/><polygon points="1580.8,483.4 1572.4,466.4 1589.3,466.4" fill="#fff" stroke="#0b840b" stroke-width="2.5" stroke-linejoin="miter"/><rect x="1579.8" y="471.0" width="2" height="2" fill="#0b840b"/><polygon points="1590.4,483.6 1582.0,466.6 1598.9,466.6" fill="#fff" stroke="#0b840b" stroke-width="2.5" stroke-linejoin="miter"/><rect x="1589.4" y="471.2" width="2" height="2" fill="#0b840b"/><polygon points="1600.0,483.8 1591.6,466.8 1608.5,466.8" fill="#fff" stroke="#0b840b" stroke-width="2.5" stroke-linejoin="miter"/><rect x="1599.0" y="471.4" width="2" height="2" fill="#0b840b"/><polygon points="1609.6,484.1 1601.2,467.1 1618.1,467.1" fill="#fff" stroke="#0b840b" stroke-width="2.5" stroke-linejoin="miter"/><rect x="1608.6" y="471.8" width="2" height="2" fill="#0b840b"/><polygon points="1619.2,484.5 1610.8,467.5 1627.7,467.5" fill="#fff" stroke="#0b840b" stroke-width="2.5" stroke-linejoin="miter"/><rect x="1618.2" y="472.2" width="2" height="2" fill="#0b840b"/><polygon points="1628.8,484.8 1620.4,467.8 1637.3,467.8" fill="#fff" stroke="#0b840b" stroke-width="2.5" stroke-linejoin="miter"/><rect x="1627.8" y="472.5" width="2" height="2" fill="#0b840b"/><polygon points="1638.4,485.2 1630.0,468.2 1646.9,468.2" fill="#fff" stroke="#0b840b" stroke-width="2.5" stroke-linejoin="miter"/><rect x="1637.4" y="472.9" width="2" height="2" fill="#0b840b"/><polygon points="1648.0,485.5 1639.6,468.5 1656.5,468.5" fill="#fff" stroke="#0b840b" stroke-width="2.5" stroke-linejoin="miter"/><rect x="1647.0" y="473.2" width="2" height="2" fill="#0b840b"/><polygon points="1657.6,485.9 1649.2,468.9 1666.1,468.9" fill="#fff" stroke="#0b840b" stroke-width="2.5" stroke-linejoin="miter"/><rect x="1656.6" y="473.6" width="2" height="2" fill="#0b840b"/><polygon points="1667.2,486.5 1658.7,469.5 1675.6,469.5" fill="#fff" stroke="#0b840b" stroke-width="2.5" stroke-linejoin="miter"/><rect x="1666.2" y="474.1" width="2" height="2" fill="#0b840b"/><polygon points="1676.8,487.1 1668.3,470.1 1685.2,470.1" fill="#fff" stroke="#0b840b" stroke-width="2.5" stroke-linejoin="miter"/><rect x="1675.8" y="474.7" width="2" height="2" fill="#0b840b"/><polygon points="1686.4,487.6 1677.9,470.6 1694.8,470.6" fill="#fff" stroke="#0b840b" stroke-width="2.5" stroke-linejoin="miter"/><rect x="1685.4" y="475.3" width="2" height="2" fill="#0b840b"/><polygon points="1696.0,488.2 1687.5,471.2 1704.4,471.2" fill="#fff" stroke="#0b840b" stroke-width="2.5" stroke-linejoin="miter"/><rect x="1695.0" y="475.9" width="2" height="2" fill="#0b840b"/><polygon points="1705.6,488.8 1697.1,471.8 1714.0,471.8" fill="#fff" stroke="#0b840b" stroke-width="2.5" stroke-linejoin="miter"/><rect x="1704.6" y="476.5" width="2" height="2" fill="#0b840b"/><polygon points="1715.2,489.4 1706.7,472.4 1723.6,472.4" fill="#fff" stroke="#0b840b" stroke-width="2.5" stroke-linejoin="miter"/><rect x="1714.2" y="477.1" width="2" height="2" fill="#0b840b"/><polygon points="1724.8,490.1 1716.3,473.1 1733.2,473.1" fill="#fff" stroke="#0b840b" stroke-width="2.5" stroke-linejoin="miter"/><rect x="1723.8" y="477.8" width="2" height="2" fill="#0b840b"/><polygon points="1734.4,490.8 1725.9,473.8 1742.8,473.8" fill="#fff" stroke="#0b840b" stroke-width="2.5" stroke-linejoin="miter"/><rect x="1733.4" y="478.5" width="2" height="2" fill="#0b840b"/><polygon points="1744.0,491.5 1735.5,474.5 1752.4,474.5" fill="#fff" stroke="#0b840b" stroke-width="2.5" stroke-linejoin="miter"/><rect x="1743.0" y="479.2" width="2" height="2" fill="#0b840b"/><polygon points="1753.6,492.2 1745.1,475.2 1762.0,475.2" fill="#fff" stroke="#0b840b" stroke-width="2.5" stroke-linejoin="miter"/><rect x="1752.6" y="479.9" width="2" height="2" fill="#0b840b"/><polygon points="1763.2,492.9 1754.7,475.9 1771.6,475.9" fill="#fff" stroke="#0b840b" stroke-width="2.5" stroke-linejoin="miter"/><rect x="1762.2" y="480.6" width="2" height="2" fill="#0b840b"/><polygon points="1772.8,493.6 1764.3,476.6 1781.2,476.6" fill="#fff" stroke="#0b840b" stroke-width="2.5" stroke-linejoin="miter"/><rect x="1771.8" y="481.3" width="2" height="2" fill="#0b840b"/><polygon points="1782.4,494.2 1773.9,477.2 1790.8,477.2" fill="#fff" stroke="#0b840b" stroke-width="2.5" stroke-linejoin="miter"/><rect x="1781.4" y="481.9" width="2" height="2" fill="#0b840b"/><polygon points="1792.0,494.9 1783.5,477.9 1800.4,477.9" fill="#fff" stroke="#0b840b" stroke-width="2.5" stroke-linejoin="miter"/><rect x="1791.0" y="482.5" width="2" height="2" fill="#0b840b"/><polygon points="1801.6,495.5 1793.1,478.5 1810.0,478.5" fill="#fff" stroke="#0b840b" stroke-width="2.5" stroke-linejoin="miter"/><rect x="1800.6" y="483.2" width="2" height="2" fill="#0b840b"/><polygon points="1811.2,496.1 1802.7,479.1 1819.6,479.1" fill="#fff" stroke="#0b840b" stroke-width="2.5" stroke-linejoin="miter"/><rect x="1810.2" y="483.8" width="2" height="2" fill="#0b840b"/><polygon points="1820.8,496.7 1812.3,479.7 1829.2,479.7" fill="#fff" stroke="#0b840b" stroke-width="2.5" stroke-linejoin="miter"/><rect x="1819.8" y="484.4" width="2" height="2" fill="#0b840b"/><polygon points="1830.3,497.4 1821.9,480.4 1838.8,480.4" fill="#fff" stroke="#0b840b" stroke-width="2.5" stroke-linejoin="miter"/><rect x="1829.3" y="485.0" width="2" height="2" fill="#0b840b"/><polygon points="1839.9,498.0 1831.5,481.0 1848.4,481.0" fill="#fff" stroke="#0b840b" stroke-width="2.5" stroke-linejoin="miter"/><rect x="1838.9" y="485.6" width="2" height="2" fill="#0b840b"/><polygon points="1849.5,498.7 1841.1,481.7 1858.0,481.7" fill="#fff" stroke="#0b840b" stroke-width="2.5" stroke-linejoin="miter"/><rect x="1848.5" y="486.3" width="2" height="2" fill="#0b840b"/><polygon points="1859.1,499.3 1850.7,482.3 1867.6,482.3" fill="#fff" stroke="#0b840b" stroke-width="2.5" stroke-linejoin="miter"/><rect x="1858.1" y="487.0" width="2" height="2" fill="#0b840b"/><polygon points="1868.7,500.0 1860.3,483.0 1877.2,483.0" fill="#fff" stroke="#0b840b" stroke-width="2.5" stroke-linejoin="miter"/><rect x="1867.7" y="487.7" width="2" height="2" fill="#0b840b"/><polygon points="1878.3,500.7 1869.9,483.7 1886.8,483.7" fill="#fff" stroke="#0b840b" stroke-width="2.5" stroke-linejoin="miter"/><rect x="1877.3" y="488.4" width="2" height="2" fill="#0b840b"/><polygon points="1887.9,501.4 1879.5,484.4 1896.4,484.4" fill="#fff" stroke="#0b840b" stroke-width="2.5" stroke-linejoin="miter"/><rect x="1886.9" y="489.0" width="2" height="2" fill="#0b840b"/><polygon points="1897.5,502.0 1889.1,485.0 1906.0,485.0" fill="#fff" stroke="#0b840b" stroke-width="2.5" stroke-linejoin="miter"/><rect x="1896.5" y="489.7" width="2" height="2" fill="#0b840b"/><polygon points="1907.1,503.0 1898.7,486.0 1915.6,486.0" fill="#fff" stroke="#0b840b" stroke-width="2.5" stroke-linejoin="miter"/><rect x="1906.1" y="490.7" width="2" height="2" fill="#0b840b"/><polygon points="1916.7,504.0 1908.3,487.0 1925.2,487.0" fill="#fff" stroke="#0b840b" stroke-width="2.5" stroke-linejoin="miter"/><rect x="1915.7" y="491.7" width="2" height="2" fill="#0b840b"/><polygon points="1926.3,505.0 1917.9,488.0 1934.8,488.0" fill="#fff" stroke="#0b840b" stroke-width="2.5" stroke-linejoin="miter"/><rect x="1925.3" y="492.7" width="2" height="2" fill="#0b840b"/><polygon points="1935.9,506.0 1927.5,489.0 1944.4,489.0" fill="#fff" stroke="#0b840b" stroke-width="2.5" stroke-linejoin="miter"/><rect x="1934.9" y="493.7" width="2" height="2" fill="#0b840b"/><polygon points="1945.5,506.8 1937.1,489.8 1954.0,489.8" fill="#fff" stroke="#0b840b" stroke-width="2.5" stroke-linejoin="miter"/><rect x="1944.5" y="494.5" width="2" height="2" fill="#0b840b"/><polygon points="1955.1,507.7 1946.7,490.7 1963.6,490.7" fill="#fff" stroke="#0b840b" stroke-width="2.5" stroke-linejoin="miter"/><rect x="1954.1" y="495.3" width="2" height="2" fill="#0b840b"/><polygon points="1964.7,508.5 1956.3,491.5 1973.2,491.5" fill="#fff" stroke="#0b840b" stroke-width="2.5" stroke-linejoin="miter"/><rect x="1963.7" y="496.2" width="2" height="2" fill="#0b840b"/><polygon points="1974.3,509.3 1965.9,492.3 1982.8,492.3" fill="#fff" stroke="#0b840b" stroke-width="2.5" stroke-linejoin="miter"/><rect x="1973.3" y="497.0" width="2" height="2" fill="#0b840b"/><polygon points="1983.9,510.1 1975.5,493.1 1992.4,493.1" fill="#fff" stroke="#0b840b" stroke-width="2.5" stroke-linejoin="miter"/><rect x="1982.9" y="497.8" width="2" height="2" fill="#0b840b"/><polygon points="1993.5,510.9 1985.0,493.9 2001.9,493.9" fill="#fff" stroke="#0b840b" stroke-width="2.5" stroke-linejoin="miter"/><rect x="1992.5" y="498.6" width="2" height="2" fill="#0b840b"/><polygon points="2003.1,511.7 1994.6,494.7 2011.5,494.7" fill="#fff" stroke="#0b840b" stroke-width="2.5" stroke-linejoin="miter"/><rect x="2002.1" y="499.4" width="2" height="2" fill="#0b840b"/><polygon points="2012.7,512.5 2004.2,495.5 2021.1,495.5" fill="#fff" stroke="#0b840b" stroke-width="2.5" stroke-linejoin="miter"/><rect x="2011.7" y="500.2" width="2" height="2" fill="#0b840b"/><polygon points="2022.3,513.3 2013.8,496.3 2030.7,496.3" fill="#fff" stroke="#0b840b" stroke-width="2.5" stroke-linejoin="miter"/><rect x="2021.3" y="501.0" width="2" height="2" fill="#0b840b"/><polygon points="2031.9,514.1 2023.4,497.1 2040.3,497.1" fill="#fff" stroke="#0b840b" stroke-width="2.5" stroke-linejoin="miter"/><rect x="2030.9" y="501.8" width="2" height="2" fill="#0b840b"/><polygon points="2041.5,514.9 2033.0,497.9 2049.9,497.9" fill="#fff" stroke="#0b840b" stroke-width="2.5" stroke-linejoin="miter"/><rect x="2040.5" y="502.6" width="2" height="2" fill="#0b840b"/><polygon points="2051.1,515.7 2042.6,498.7 2059.5,498.7" fill="#fff" stroke="#0b840b" stroke-width="2.5" stroke-linejoin="miter"/><rect x="2050.1" y="503.4" width="2" height="2" fill="#0b840b"/><polygon points="2060.7,516.6 2052.2,499.6 2069.1,499.6" fill="#fff" stroke="#0b840b" stroke-width="2.5" stroke-linejoin="miter"/><rect x="2059.7" y="504.2" width="2" height="2" fill="#0b840b"/><polygon points="2070.3,517.4 2061.8,500.4 2078.7,500.4" fill="#fff" stroke="#0b840b" stroke-width="2.5" stroke-linejoin="miter"/><rect x="2069.3" y="505.1" width="2" height="2" fill="#0b840b"/><polygon points="2079.9,518.2 2071.4,501.2 2088.3,501.2" fill="#fff" stroke="#0b840b" stroke-width="2.5" stroke-linejoin="miter"/><rect x="2078.9" y="505.9" width="2" height="2" fill="#0b840b"/><polyline points="1033.8,485.4 1043.4,490.2 1053.0,489.3 1062.6,488.7 1072.2,487.3 1081.8,483.1 1091.4,480.7 1101.0,479.1 1110.6,477.4 1120.2,476.4 1129.8,477.8 1139.4,473.6 1149.0,473.1 1158.6,468.7 1168.2,468.2 1177.8,466.8 1187.3,466.3 1196.9,466.3 1206.5,466.2 1216.1,466.1 1225.7,466.1 1235.3,466.0 1244.9,465.9 1254.5,465.8 1264.1,465.8 1273.7,465.8 1283.3,465.9 1292.9,466.0 1302.5,466.1 1312.1,466.1 1321.7,466.2 1331.3,466.3 1340.9,466.3 1350.5,466.4 1360.1,466.5 1369.7,466.5 1379.3,466.6 1388.9,466.7 1398.5,466.8 1408.1,466.8 1417.7,467.4 1427.3,468.0 1436.9,468.7 1446.5,468.9 1456.1,469.1 1465.7,469.4 1475.3,469.6 1484.9,469.9 1494.5,470.1 1504.0,470.3 1513.6,470.6 1523.2,470.8 1532.8,471.0 1542.4,471.2 1552.0,471.4 1561.6,471.6 1571.2,471.8 1580.8,472.0 1590.4,472.2 1600.0,472.4 1609.6,472.8 1619.2,473.2 1628.8,473.5 1638.4,473.9 1648.0,474.2 1657.6,474.6 1667.2,475.1 1676.8,475.7 1686.4,476.3 1696.0,476.9 1705.6,477.5 1715.2,478.1 1724.8,478.8 1734.4,479.5 1744.0,480.2 1753.6,480.9 1763.2,481.6 1772.8,482.3 1782.4,482.9 1792.0,483.5 1801.6,484.2 1811.2,484.8 1820.8,485.4 1830.3,486.0 1839.9,486.6 1849.5,487.3 1859.1,488.0 1868.7,488.7 1878.3,489.4 1887.9,490.0 1897.5,490.7 1907.1,491.7 1916.7,492.7 1926.3,493.7 1935.9,494.7 1945.5,495.5 1955.1,496.3 1964.7,497.2 1974.3,498.0 1983.9,498.8 1993.5,499.6 2003.1,500.4 2012.7,501.2 2022.3,502.0 2031.9,502.8 2041.5,503.6 2051.1,504.4 2060.7,505.2 2070.3,506.1 2079.9,506.9" fill="none" stroke="#0b840b" stroke-width="2.6" stroke-linejoin="round"/></g>
<line x1="995" y1="783.70" x2="1024" y2="783.70" stroke="#000" stroke-width="6.8"/>
<text x="988" y="800.9" font-size="60" text-anchor="end" font-family="Liberation Sans, Arial, sans-serif" font-weight="bold">0</text>
<line x1="1010" y1="755.60" x2="1024" y2="755.60" stroke="#000" stroke-width="6.2"/>
<line x1="1010" y1="727.49" x2="1024" y2="727.49" stroke="#000" stroke-width="6.2"/>
<line x1="1010" y1="699.39" x2="1024" y2="699.39" stroke="#000" stroke-width="6.2"/>
<line x1="1010" y1="671.28" x2="1024" y2="671.28" stroke="#000" stroke-width="6.2"/>
<line x1="995" y1="643.18" x2="1024" y2="643.18" stroke="#000" stroke-width="6.8"/>
<text x="988" y="660.4" font-size="60" text-anchor="end" font-family="Liberation Sans, Arial, sans-serif" font-weight="bold">200</text>
<line x1="1010" y1="615.08" x2="1024" y2="615.08" stroke="#000" stroke-width="6.2"/>
<line x1="1010" y1="586.97" x2="1024" y2="586.97" stroke="#000" stroke-width="6.2"/>
<line x1="1010" y1="558.87" x2="1024" y2="558.87" stroke="#000" stroke-width="6.2"/>
<line x1="1010" y1="530.76" x2="1024" y2="530.76" stroke="#000" stroke-width="6.2"/>
<line x1="995" y1="502.66" x2="1024" y2="502.66" stroke="#000" stroke-width="6.8"/>
<text x="988" y="519.9" font-size="60" text-anchor="end" font-family="Liberation Sans, Arial, sans-serif" font-weight="bold">400</text>
<line x1="1010" y1="474.56" x2="1024" y2="474.56" stroke="#000" stroke-width="6.2"/>
<line x1="1010" y1="446.45" x2="1024" y2="446.45" stroke="#000" stroke-width="6.2"/>
<line x1="1010" y1="418.35" x2="1024" y2="418.35" stroke="#000" stroke-width="6.2"/>
<line x1="1010" y1="390.24" x2="1024" y2="390.24" stroke="#000" stroke-width="6.2"/>
<line x1="995" y1="362.14" x2="1024" y2="362.14" stroke="#000" stroke-width="6.8"/>
<text x="988" y="379.3" font-size="60" text-anchor="end" font-family="Liberation Sans, Arial, sans-serif" font-weight="bold">600</text>
<line x1="1010" y1="334.04" x2="1024" y2="334.04" stroke="#000" stroke-width="6.2"/>
<line x1="1010" y1="305.93" x2="1024" y2="305.93" stroke="#000" stroke-width="6.2"/>
<line x1="1010" y1="277.83" x2="1024" y2="277.83" stroke="#000" stroke-width="6.2"/>
<line x1="1010" y1="249.72" x2="1024" y2="249.72" stroke="#000" stroke-width="6.2"/>
<line x1="995" y1="221.62" x2="1024" y2="221.62" stroke="#000" stroke-width="6.8"/>
<text x="988" y="238.8" font-size="60" text-anchor="end" font-family="Liberation Sans, Arial, sans-serif" font-weight="bold">800</text>
<line x1="1010" y1="193.52" x2="1024" y2="193.52" stroke="#000" stroke-width="6.2"/>
<line x1="1010" y1="165.41" x2="1024" y2="165.41" stroke="#000" stroke-width="6.2"/>
<line x1="1010" y1="137.31" x2="1024" y2="137.31" stroke="#000" stroke-width="6.2"/>
<line x1="1010" y1="109.20" x2="1024" y2="109.20" stroke="#000" stroke-width="6.2"/>
<line x1="995" y1="81.10" x2="1024" y2="81.10" stroke="#000" stroke-width="6.8"/>
<text x="988" y="98.3" font-size="60" text-anchor="end" font-family="Liberation Sans, Arial, sans-serif" font-weight="bold">1000</text>
<line x1="1010" y1="53.00" x2="1024" y2="53.00" stroke="#000" stroke-width="6.2"/>
<line x1="1010" y1="24.89" x2="1024" y2="24.89" stroke="#000" stroke-width="6.2"/>
<line x1="1024.20" y1="783.7" x2="1024.20" y2="812.5" stroke="#000" stroke-width="6.8"/>
<text x="1024.2" y="867.3" font-size="60" text-anchor="middle" font-family="Liberation Sans, Arial, sans-serif" font-weight="bold">0</text>
<line x1="1043.39" y1="783.7" x2="1043.39" y2="798.5" stroke="#000" stroke-width="6.2"/>
<line x1="1062.59" y1="783.7" x2="1062.59" y2="798.5" stroke="#000" stroke-width="6.2"/>
<line x1="1081.78" y1="783.7" x2="1081.78" y2="798.5" stroke="#000" stroke-width="6.2"/>
<line x1="1100.98" y1="783.7" x2="1100.98" y2="798.5" stroke="#000" stroke-width="6.2"/>
<line x1="1120.17" y1="783.7" x2="1120.17" y2="798.5" stroke="#000" stroke-width="6.2"/>
<line x1="1139.36" y1="783.7" x2="1139.36" y2="798.5" stroke="#000" stroke-width="6.2"/>
<line x1="1158.56" y1="783.7" x2="1158.56" y2="798.5" stroke="#000" stroke-width="6.2"/>
<line x1="1177.75" y1="783.7" x2="1177.75" y2="798.5" stroke="#000" stroke-width="6.2"/>
<line x1="1196.95" y1="783.7" x2="1196.95" y2="798.5" stroke="#000" stroke-width="6.2"/>
<line x1="1216.14" y1="783.7" x2="1216.14" y2="812.5" stroke="#000" stroke-width="6.8"/>
<text x="1216.1" y="867.3" font-size="60" text-anchor="middle" font-family="Liberation Sans, Arial, sans-serif" font-weight="bold">20</text>
<line x1="1235.33" y1="783.7" x2="1235.33" y2="798.5" stroke="#000" stroke-width="6.2"/>
<line x1="1254.53" y1="783.7" x2="1254.53" y2="798.5" stroke="#000" stroke-width="6.2"/>
<line x1="1273.72" y1="783.7" x2="1273.72" y2="798.5" stroke="#000" stroke-width="6.2"/>
<line x1="1292.92" y1="783.7" x2="1292.92" y2="798.5" stroke="#000" stroke-width="6.2"/>
<line x1="1312.11" y1="783.7" x2="1312.11" y2="798.5" stroke="#000" stroke-width="6.2"/>
<line x1="1331.30" y1="783.7" x2="1331.30" y2="798.5" stroke="#000" stroke-width="6.2"/>
<line x1="1350.50" y1="783.7" x2="1350.50" y2="798.5" stroke="#000" stroke-width="6.2"/>
<line x1="1369.69" y1="783.7" x2="1369.69" y2="798.5" stroke="#000" stroke-width="6.2"/>
<line x1="1388.89" y1="783.7" x2="1388.89" y2="798.5" stroke="#000" stroke-width="6.2"/>
<line x1="1408.08" y1="783.7" x2="1408.08" y2="812.5" stroke="#000" stroke-width="6.8"/>
<text x="1408.1" y="867.3" font-size="60" text-anchor="middle" font-family="Liberation Sans, Arial, sans-serif" font-weight="bold">40</text>
<line x1="1427.27" y1="783.7" x2="1427.27" y2="798.5" stroke="#000" stroke-width="6.2"/>
<line x1="1446.47" y1="783.7" x2="1446.47" y2="798.5" stroke="#000" stroke-width="6.2"/>
<line x1="1465.66" y1="783.7" x2="1465.66" y2="798.5" stroke="#000" stroke-width="6.2"/>
<line x1="1484.86" y1="783.7" x2="1484.86" y2="798.5" stroke="#000" stroke-width="6.2"/>
<line x1="1504.05" y1="783.7" x2="1504.05" y2="798.5" stroke="#000" stroke-width="6.2"/>
<line x1="1523.24" y1="783.7" x2="1523.24" y2="798.5" stroke="#000" stroke-width="6.2"/>
<line x1="1542.44" y1="783.7" x2="1542.44" y2="798.5" stroke="#000" stroke-width="6.2"/>
<line x1="1561.63" y1="783.7" x2="1561.63" y2="798.5" stroke="#000" stroke-width="6.2"/>
<line x1="1580.83" y1="783.7" x2="1580.83" y2="798.5" stroke="#000" stroke-width="6.2"/>
<line x1="1600.02" y1="783.7" x2="1600.02" y2="812.5" stroke="#000" stroke-width="6.8"/>
<text x="1600.0" y="867.3" font-size="60" text-anchor="middle" font-family="Liberation Sans, Arial, sans-serif" font-weight="bold">60</text>
<line x1="1619.21" y1="783.7" x2="1619.21" y2="798.5" stroke="#000" stroke-width="6.2"/>
<line x1="1638.41" y1="783.7" x2="1638.41" y2="798.5" stroke="#000" stroke-width="6.2"/>
<line x1="1657.60" y1="783.7" x2="1657.60" y2="798.5" stroke="#000" stroke-width="6.2"/>
<line x1="1676.80" y1="783.7" x2="1676.80" y2="798.5" stroke="#000" stroke-width="6.2"/>
<line x1="1695.99" y1="783.7" x2="1695.99" y2="798.5" stroke="#000" stroke-width="6.2"/>
<line x1="1715.18" y1="783.7" x2="1715.18" y2="798.5" stroke="#000" stroke-width="6.2"/>
<line x1="1734.38" y1="783.7" x2="1734.38" y2="798.5" stroke="#000" stroke-width="6.2"/>
<line x1="1753.57" y1="783.7" x2="1753.57" y2="798.5" stroke="#000" stroke-width="6.2"/>
<line x1="1772.77" y1="783.7" x2="1772.77" y2="798.5" stroke="#000" stroke-width="6.2"/>
<line x1="1791.96" y1="783.7" x2="1791.96" y2="812.5" stroke="#000" stroke-width="6.8"/>
<text x="1792.0" y="867.3" font-size="60" text-anchor="middle" font-family="Liberation Sans, Arial, sans-serif" font-weight="bold">80</text>
<line x1="1811.15" y1="783.7" x2="1811.15" y2="798.5" stroke="#000" stroke-width="6.2"/>
<line x1="1830.35" y1="783.7" x2="1830.35" y2="798.5" stroke="#000" stroke-width="6.2"/>
<line x1="1849.54" y1="783.7" x2="1849.54" y2="798.5" stroke="#000" stroke-width="6.2"/>
<line x1="1868.74" y1="783.7" x2="1868.74" y2="798.5" stroke="#000" stroke-width="6.2"/>
<line x1="1887.93" y1="783.7" x2="1887.93" y2="798.5" stroke="#000" stroke-width="6.2"/>
<line x1="1907.12" y1="783.7" x2="1907.12" y2="798.5" stroke="#000" stroke-width="6.2"/>
<line x1="1926.32" y1="783.7" x2="1926.32" y2="798.5" stroke="#000" stroke-width="6.2"/>
<line x1="1945.51" y1="783.7" x2="1945.51" y2="798.5" stroke="#000" stroke-width="6.2"/>
<line x1="1964.71" y1="783.7" x2="1964.71" y2="798.5" stroke="#000" stroke-width="6.2"/>
<line x1="1983.90" y1="783.7" x2="1983.90" y2="812.5" stroke="#000" stroke-width="6.8"/>
<text x="1983.9" y="867.3" font-size="60" text-anchor="middle" font-family="Liberation Sans, Arial, sans-serif" font-weight="bold">100</text>
<line x1="2003.09" y1="783.7" x2="2003.09" y2="798.5" stroke="#000" stroke-width="6.2"/>
<line x1="2022.29" y1="783.7" x2="2022.29" y2="798.5" stroke="#000" stroke-width="6.2"/>
<line x1="2041.48" y1="783.7" x2="2041.48" y2="798.5" stroke="#000" stroke-width="6.2"/>
<line x1="2060.68" y1="783.7" x2="2060.68" y2="798.5" stroke="#000" stroke-width="6.2"/>
<line x1="2079.87" y1="783.7" x2="2079.87" y2="798.5" stroke="#000" stroke-width="6.2"/>
<rect x="1024.2" y="11.6" width="1056.3" height="772.1" fill="none" stroke="#000" stroke-width="6.5"/>
<text x="1554.6" y="928.3" font-size="62" text-anchor="middle" textLength="401.6" lengthAdjust="spacingAndGlyphs" font-family="Liberation Sans, Arial, sans-serif" font-weight="bold">Cycle number</text>
<text transform="translate(836,398.5) rotate(-90)" x="0" y="0" font-size="64" text-anchor="middle" textLength="755.0" lengthAdjust="spacingAndGlyphs" font-family="Liberation Sans, Arial, sans-serif" font-weight="bold">Specific capacity (mAh/g)</text>
<line x1="1501" y1="107.9" x2="1588" y2="107.9" stroke="#000000" stroke-width="3.4"/>
<rect x="1535.8" y="99.7" width="16.5" height="16.5" fill="#fff" stroke="#000" stroke-width="2.4"/>
<text x="1598" y="120.2" font-size="60" fill="#000000" font-family="Liberation Sans, Arial, sans-serif" font-weight="bold">CuS-C</text>
<line x1="1501" y1="183.5" x2="1588" y2="183.5" stroke="#f00000" stroke-width="3.4"/>
<circle cx="1544.0" cy="183.5" r="8.8" fill="#fff" stroke="#f00000" stroke-width="2.2"/>
<text x="1598" y="195.8" font-size="60" fill="#f00000" font-family="Liberation Sans, Arial, sans-serif" font-weight="bold">Cu1.8S-C</text>
<line x1="1501" y1="259.2" x2="1588" y2="259.2" stroke="#0000f0" stroke-width="3.4"/>
<polygon points="1544.0,247.7 1533.0,265.7 1555.0,265.7" fill="#fff" stroke="#0000f0" stroke-width="2.4"/>
<rect x="1543.0" y="258.2" width="2" height="2" fill="#0000f0"/>
<text x="1598" y="271.5" font-size="60" fill="#0000f0" font-family="Liberation Sans, Arial, sans-serif" font-weight="bold">Cu2S-C</text>
<line x1="1501" y1="335.8" x2="1588" y2="335.8" stroke="#0b840b" stroke-width="3.4"/>
<polygon points="1544.0,348.3 1533.5,329.3 1554.5,329.3" fill="#fff" stroke="#0b840b" stroke-width="2.6"/>
<line x1="1501" y1="335.8" x2="1588" y2="335.8" stroke="#0b840b" stroke-width="3.4"/>
<text x="1598" y="348.1" font-size="60" fill="#0b840b" font-family="Liberation Sans, Arial, sans-serif" font-weight="bold">Cu1.8S-C/C</text>
<text x="1704" y="739.7" font-size="61.5" font-family="Liberation Sans, Arial, sans-serif" font-weight="bold">@ 2C</text>
</svg>
</body></html>
